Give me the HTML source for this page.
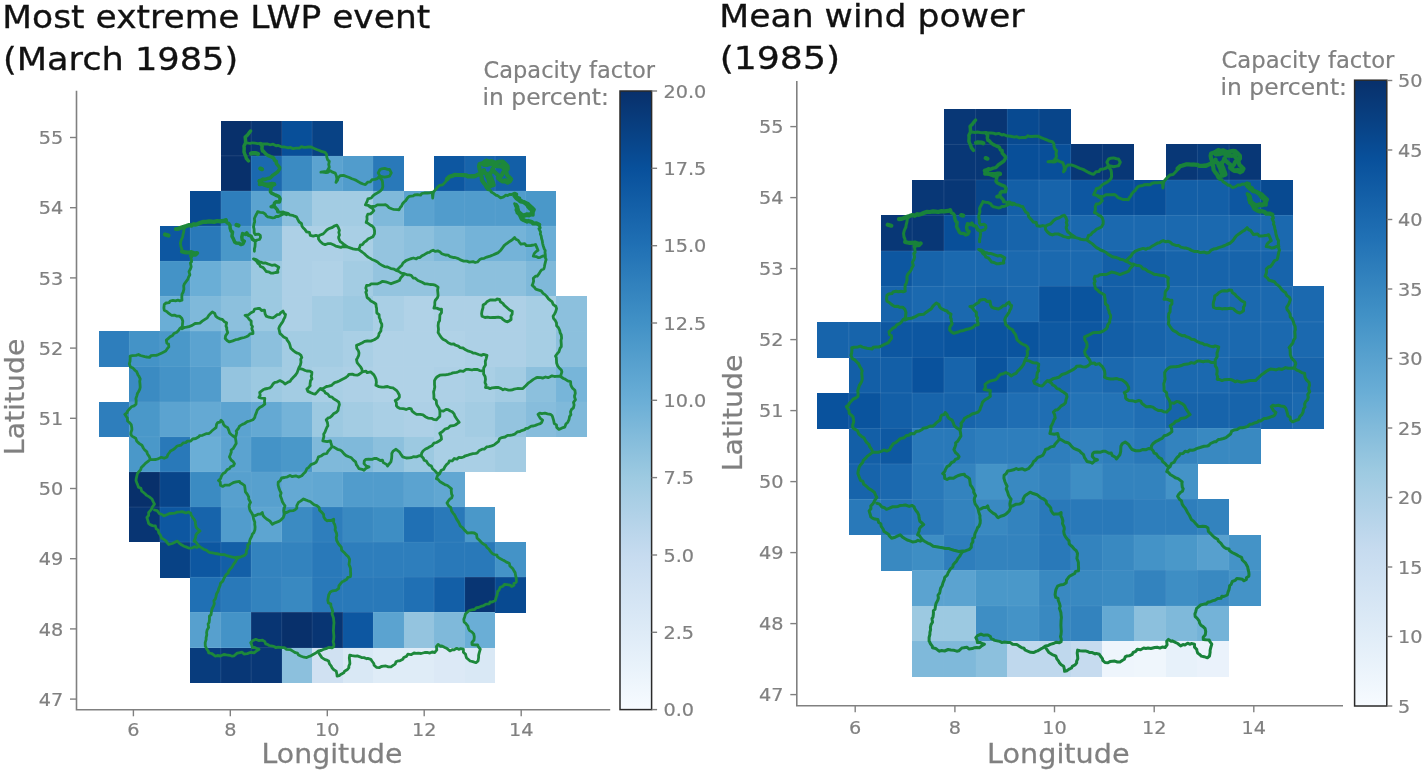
<!DOCTYPE html>
<html><head><meta charset="utf-8"><title>Wind power maps</title>
<style>
html,body{margin:0;padding:0;background:#fff;}
body{width:1425px;height:772px;overflow:hidden;}
svg{display:block;font-family:"DejaVu Sans","Liberation Sans",sans-serif;}
.tk{font-size:18.5px;fill:#808080;stroke:#808080;stroke-width:0.2px;}
.ttl{fill:#111;stroke:#111;stroke-width:0.3px;}
.lab{fill:#808080;stroke:#808080;stroke-width:0.25px;}
.cb{fill:#808080;stroke:#808080;stroke-width:0.2px;}
</style></head><body>
<svg width="1425" height="772" viewBox="0 0 1425 772">
<rect width="1425" height="772" fill="#fff"/>
<g id="cellsL" shape-rendering="crispEdges">
<rect x="220.75" y="120.70" width="30.79" height="35.42" fill="#08306b"/>
<rect x="251.24" y="120.70" width="30.79" height="35.42" fill="#083573"/>
<rect x="281.73" y="120.70" width="30.79" height="35.42" fill="#084f99"/>
<rect x="312.22" y="120.70" width="30.79" height="35.42" fill="#084285"/>
<rect x="220.75" y="155.82" width="30.79" height="35.42" fill="#08306b"/>
<rect x="251.24" y="155.82" width="30.79" height="35.42" fill="#1b69af"/>
<rect x="281.73" y="155.82" width="30.79" height="35.42" fill="#3b8bc2"/>
<rect x="312.22" y="155.82" width="30.79" height="35.42" fill="#5ba3d0"/>
<rect x="342.71" y="155.82" width="30.79" height="35.42" fill="#519ccc"/>
<rect x="373.20" y="155.82" width="30.79" height="35.42" fill="#2979b9"/>
<rect x="434.18" y="155.82" width="30.79" height="35.42" fill="#0d57a1"/>
<rect x="464.67" y="155.82" width="30.79" height="35.42" fill="#1764ab"/>
<rect x="495.16" y="155.82" width="30.79" height="35.42" fill="#135fa7"/>
<rect x="190.26" y="190.95" width="30.79" height="35.42" fill="#084a91"/>
<rect x="220.75" y="190.95" width="30.79" height="35.42" fill="#2e7ebc"/>
<rect x="251.24" y="190.95" width="30.79" height="35.42" fill="#5ba3d0"/>
<rect x="281.73" y="190.95" width="30.79" height="35.42" fill="#8cc0dd"/>
<rect x="312.22" y="190.95" width="30.79" height="35.42" fill="#a3cce3"/>
<rect x="342.71" y="190.95" width="30.79" height="35.42" fill="#a3cce3"/>
<rect x="373.20" y="190.95" width="30.79" height="35.42" fill="#7fb9da"/>
<rect x="403.69" y="190.95" width="30.79" height="35.42" fill="#5ba3d0"/>
<rect x="434.18" y="190.95" width="30.79" height="35.42" fill="#519ccc"/>
<rect x="464.67" y="190.95" width="30.79" height="35.42" fill="#519ccc"/>
<rect x="495.16" y="190.95" width="30.79" height="35.42" fill="#519ccc"/>
<rect x="525.65" y="190.95" width="30.79" height="35.42" fill="#4a98c9"/>
<rect x="159.77" y="226.07" width="30.79" height="35.42" fill="#0d57a1"/>
<rect x="190.26" y="226.07" width="30.79" height="35.42" fill="#2979b9"/>
<rect x="220.75" y="226.07" width="30.79" height="35.42" fill="#4a98c9"/>
<rect x="251.24" y="226.07" width="30.79" height="35.42" fill="#7fb9da"/>
<rect x="281.73" y="226.07" width="30.79" height="35.42" fill="#add0e6"/>
<rect x="312.22" y="226.07" width="30.79" height="35.42" fill="#add0e6"/>
<rect x="342.71" y="226.07" width="30.79" height="35.42" fill="#a9cfe5"/>
<rect x="373.20" y="226.07" width="30.79" height="35.42" fill="#94c4df"/>
<rect x="403.69" y="226.07" width="30.79" height="35.42" fill="#8cc0dd"/>
<rect x="434.18" y="226.07" width="30.79" height="35.42" fill="#7fb9da"/>
<rect x="464.67" y="226.07" width="30.79" height="35.42" fill="#74b3d8"/>
<rect x="495.16" y="226.07" width="30.79" height="35.42" fill="#74b3d8"/>
<rect x="525.65" y="226.07" width="30.79" height="35.42" fill="#6aaed6"/>
<rect x="159.77" y="261.20" width="30.79" height="35.42" fill="#4493c7"/>
<rect x="190.26" y="261.20" width="30.79" height="35.42" fill="#6aaed6"/>
<rect x="220.75" y="261.20" width="30.79" height="35.42" fill="#7fb9da"/>
<rect x="251.24" y="261.20" width="30.79" height="35.42" fill="#9cc9e1"/>
<rect x="281.73" y="261.20" width="30.79" height="35.42" fill="#add0e6"/>
<rect x="312.22" y="261.20" width="30.79" height="35.42" fill="#b0d2e7"/>
<rect x="342.71" y="261.20" width="30.79" height="35.42" fill="#a3cce3"/>
<rect x="373.20" y="261.20" width="30.79" height="35.42" fill="#94c4df"/>
<rect x="403.69" y="261.20" width="30.79" height="35.42" fill="#94c4df"/>
<rect x="434.18" y="261.20" width="30.79" height="35.42" fill="#94c4df"/>
<rect x="464.67" y="261.20" width="30.79" height="35.42" fill="#8cc0dd"/>
<rect x="495.16" y="261.20" width="30.79" height="35.42" fill="#8cc0dd"/>
<rect x="525.65" y="261.20" width="30.79" height="35.42" fill="#7fb9da"/>
<rect x="159.77" y="296.32" width="30.79" height="35.42" fill="#6aaed6"/>
<rect x="190.26" y="296.32" width="30.79" height="35.42" fill="#7fb9da"/>
<rect x="220.75" y="296.32" width="30.79" height="35.42" fill="#8cc0dd"/>
<rect x="251.24" y="296.32" width="30.79" height="35.42" fill="#9cc9e1"/>
<rect x="281.73" y="296.32" width="30.79" height="35.42" fill="#add0e6"/>
<rect x="312.22" y="296.32" width="30.79" height="35.42" fill="#a3cce3"/>
<rect x="342.71" y="296.32" width="30.79" height="35.42" fill="#9cc9e1"/>
<rect x="373.20" y="296.32" width="30.79" height="35.42" fill="#a9cfe5"/>
<rect x="403.69" y="296.32" width="30.79" height="35.42" fill="#b0d2e7"/>
<rect x="434.18" y="296.32" width="30.79" height="35.42" fill="#add0e6"/>
<rect x="464.67" y="296.32" width="30.79" height="35.42" fill="#add0e6"/>
<rect x="495.16" y="296.32" width="30.79" height="35.42" fill="#add0e6"/>
<rect x="525.65" y="296.32" width="30.79" height="35.42" fill="#a6cee4"/>
<rect x="556.14" y="296.32" width="30.79" height="35.42" fill="#8cc0dd"/>
<rect x="98.79" y="331.45" width="30.79" height="35.42" fill="#2e7ebc"/>
<rect x="129.28" y="331.45" width="30.79" height="35.42" fill="#4493c7"/>
<rect x="159.77" y="331.45" width="30.79" height="35.42" fill="#4a98c9"/>
<rect x="190.26" y="331.45" width="30.79" height="35.42" fill="#5ba3d0"/>
<rect x="220.75" y="331.45" width="30.79" height="35.42" fill="#74b3d8"/>
<rect x="251.24" y="331.45" width="30.79" height="35.42" fill="#8cc0dd"/>
<rect x="281.73" y="331.45" width="30.79" height="35.42" fill="#a3cce3"/>
<rect x="312.22" y="331.45" width="30.79" height="35.42" fill="#a3cce3"/>
<rect x="342.71" y="331.45" width="30.79" height="35.42" fill="#a9cfe5"/>
<rect x="373.20" y="331.45" width="30.79" height="35.42" fill="#b0d2e7"/>
<rect x="403.69" y="331.45" width="30.79" height="35.42" fill="#b0d2e7"/>
<rect x="434.18" y="331.45" width="30.79" height="35.42" fill="#b0d2e7"/>
<rect x="464.67" y="331.45" width="30.79" height="35.42" fill="#add0e6"/>
<rect x="495.16" y="331.45" width="30.79" height="35.42" fill="#add0e6"/>
<rect x="525.65" y="331.45" width="30.79" height="35.42" fill="#a6cee4"/>
<rect x="556.14" y="331.45" width="30.79" height="35.42" fill="#8cc0dd"/>
<rect x="129.28" y="366.57" width="30.79" height="35.42" fill="#3b8bc2"/>
<rect x="159.77" y="366.57" width="30.79" height="35.42" fill="#4493c7"/>
<rect x="190.26" y="366.57" width="30.79" height="35.42" fill="#519ccc"/>
<rect x="220.75" y="366.57" width="30.79" height="35.42" fill="#94c4df"/>
<rect x="251.24" y="366.57" width="30.79" height="35.42" fill="#9cc9e1"/>
<rect x="281.73" y="366.57" width="30.79" height="35.42" fill="#a3cce3"/>
<rect x="312.22" y="366.57" width="30.79" height="35.42" fill="#a9cfe5"/>
<rect x="342.71" y="366.57" width="30.79" height="35.42" fill="#add0e6"/>
<rect x="373.20" y="366.57" width="30.79" height="35.42" fill="#b0d2e7"/>
<rect x="403.69" y="366.57" width="30.79" height="35.42" fill="#b0d2e7"/>
<rect x="434.18" y="366.57" width="30.79" height="35.42" fill="#add0e6"/>
<rect x="464.67" y="366.57" width="30.79" height="35.42" fill="#a9cfe5"/>
<rect x="495.16" y="366.57" width="30.79" height="35.42" fill="#a3cce3"/>
<rect x="525.65" y="366.57" width="30.79" height="35.42" fill="#8cc0dd"/>
<rect x="556.14" y="366.57" width="30.79" height="35.42" fill="#77b5d9"/>
<rect x="98.79" y="401.70" width="30.79" height="35.42" fill="#2e7ebc"/>
<rect x="129.28" y="401.70" width="30.79" height="35.42" fill="#4a98c9"/>
<rect x="159.77" y="401.70" width="30.79" height="35.42" fill="#5ba3d0"/>
<rect x="190.26" y="401.70" width="30.79" height="35.42" fill="#64a9d3"/>
<rect x="220.75" y="401.70" width="30.79" height="35.42" fill="#5ba3d0"/>
<rect x="251.24" y="401.70" width="30.79" height="35.42" fill="#64a9d3"/>
<rect x="281.73" y="401.70" width="30.79" height="35.42" fill="#74b3d8"/>
<rect x="312.22" y="401.70" width="30.79" height="35.42" fill="#9cc9e1"/>
<rect x="342.71" y="401.70" width="30.79" height="35.42" fill="#a3cce3"/>
<rect x="373.20" y="401.70" width="30.79" height="35.42" fill="#a9cfe5"/>
<rect x="403.69" y="401.70" width="30.79" height="35.42" fill="#add0e6"/>
<rect x="434.18" y="401.70" width="30.79" height="35.42" fill="#a9cfe5"/>
<rect x="464.67" y="401.70" width="30.79" height="35.42" fill="#a3cce3"/>
<rect x="495.16" y="401.70" width="30.79" height="35.42" fill="#94c4df"/>
<rect x="525.65" y="401.70" width="30.79" height="35.42" fill="#87bddc"/>
<rect x="556.14" y="401.70" width="30.79" height="35.42" fill="#7fb9da"/>
<rect x="129.28" y="436.82" width="30.79" height="35.42" fill="#4a98c9"/>
<rect x="159.77" y="436.82" width="30.79" height="35.42" fill="#2979b9"/>
<rect x="190.26" y="436.82" width="30.79" height="35.42" fill="#6aaed6"/>
<rect x="220.75" y="436.82" width="30.79" height="35.42" fill="#5ba3d0"/>
<rect x="251.24" y="436.82" width="30.79" height="35.42" fill="#4493c7"/>
<rect x="281.73" y="436.82" width="30.79" height="35.42" fill="#4a98c9"/>
<rect x="312.22" y="436.82" width="30.79" height="35.42" fill="#7fb9da"/>
<rect x="342.71" y="436.82" width="30.79" height="35.42" fill="#7fb9da"/>
<rect x="373.20" y="436.82" width="30.79" height="35.42" fill="#8cc0dd"/>
<rect x="403.69" y="436.82" width="30.79" height="35.42" fill="#9cc9e1"/>
<rect x="434.18" y="436.82" width="30.79" height="35.42" fill="#a9cfe5"/>
<rect x="464.67" y="436.82" width="30.79" height="35.42" fill="#a9cfe5"/>
<rect x="495.16" y="436.82" width="30.79" height="35.42" fill="#a3cce3"/>
<rect x="129.28" y="471.95" width="30.79" height="35.42" fill="#08306b"/>
<rect x="159.77" y="471.95" width="30.79" height="35.42" fill="#08458a"/>
<rect x="190.26" y="471.95" width="30.79" height="35.42" fill="#3b8bc2"/>
<rect x="220.75" y="471.95" width="30.79" height="35.42" fill="#57a0ce"/>
<rect x="251.24" y="471.95" width="30.79" height="35.42" fill="#57a0ce"/>
<rect x="281.73" y="471.95" width="30.79" height="35.42" fill="#64a9d3"/>
<rect x="312.22" y="471.95" width="30.79" height="35.42" fill="#61a7d2"/>
<rect x="342.71" y="471.95" width="30.79" height="35.42" fill="#519ccc"/>
<rect x="373.20" y="471.95" width="30.79" height="35.42" fill="#519ccc"/>
<rect x="403.69" y="471.95" width="30.79" height="35.42" fill="#5ba3d0"/>
<rect x="434.18" y="471.95" width="30.79" height="35.42" fill="#61a7d2"/>
<rect x="129.28" y="507.07" width="30.79" height="35.42" fill="#083573"/>
<rect x="159.77" y="507.07" width="30.79" height="35.42" fill="#0d57a1"/>
<rect x="190.26" y="507.07" width="30.79" height="35.42" fill="#1764ab"/>
<rect x="220.75" y="507.07" width="30.79" height="35.42" fill="#519ccc"/>
<rect x="251.24" y="507.07" width="30.79" height="35.42" fill="#5da5d1"/>
<rect x="281.73" y="507.07" width="30.79" height="35.42" fill="#3b8bc2"/>
<rect x="312.22" y="507.07" width="30.79" height="35.42" fill="#2e7ebc"/>
<rect x="342.71" y="507.07" width="30.79" height="35.42" fill="#3989c1"/>
<rect x="373.20" y="507.07" width="30.79" height="35.42" fill="#3e8ec4"/>
<rect x="403.69" y="507.07" width="30.79" height="35.42" fill="#2070b4"/>
<rect x="434.18" y="507.07" width="30.79" height="35.42" fill="#2979b9"/>
<rect x="464.67" y="507.07" width="30.79" height="35.42" fill="#4a98c9"/>
<rect x="159.77" y="542.20" width="30.79" height="35.42" fill="#084285"/>
<rect x="190.26" y="542.20" width="30.79" height="35.42" fill="#0d57a1"/>
<rect x="220.75" y="542.20" width="30.79" height="35.42" fill="#135fa7"/>
<rect x="251.24" y="542.20" width="30.79" height="35.42" fill="#3383be"/>
<rect x="281.73" y="542.20" width="30.79" height="35.42" fill="#3383be"/>
<rect x="312.22" y="542.20" width="30.79" height="35.42" fill="#2979b9"/>
<rect x="342.71" y="542.20" width="30.79" height="35.42" fill="#2e7ebc"/>
<rect x="373.20" y="542.20" width="30.79" height="35.42" fill="#2e7ebc"/>
<rect x="403.69" y="542.20" width="30.79" height="35.42" fill="#2e7ebc"/>
<rect x="434.18" y="542.20" width="30.79" height="35.42" fill="#2979b9"/>
<rect x="464.67" y="542.20" width="30.79" height="35.42" fill="#2979b9"/>
<rect x="495.16" y="542.20" width="30.79" height="35.42" fill="#4493c7"/>
<rect x="190.26" y="577.33" width="30.79" height="35.42" fill="#2070b4"/>
<rect x="220.75" y="577.33" width="30.79" height="35.42" fill="#2979b9"/>
<rect x="251.24" y="577.33" width="30.79" height="35.42" fill="#3383be"/>
<rect x="281.73" y="577.33" width="30.79" height="35.42" fill="#3989c1"/>
<rect x="312.22" y="577.33" width="30.79" height="35.42" fill="#2979b9"/>
<rect x="342.71" y="577.33" width="30.79" height="35.42" fill="#2979b9"/>
<rect x="373.20" y="577.33" width="30.79" height="35.42" fill="#2979b9"/>
<rect x="403.69" y="577.33" width="30.79" height="35.42" fill="#2070b4"/>
<rect x="434.18" y="577.33" width="30.79" height="35.42" fill="#135fa7"/>
<rect x="464.67" y="577.33" width="30.79" height="35.42" fill="#083573"/>
<rect x="495.16" y="577.33" width="30.79" height="35.42" fill="#084a91"/>
<rect x="190.26" y="612.45" width="30.79" height="35.42" fill="#57a0ce"/>
<rect x="220.75" y="612.45" width="30.79" height="35.42" fill="#4493c7"/>
<rect x="251.24" y="612.45" width="30.79" height="35.42" fill="#083573"/>
<rect x="281.73" y="612.45" width="30.79" height="35.42" fill="#08306b"/>
<rect x="312.22" y="612.45" width="30.79" height="35.42" fill="#083573"/>
<rect x="342.71" y="612.45" width="30.79" height="35.42" fill="#0d57a1"/>
<rect x="373.20" y="612.45" width="30.79" height="35.42" fill="#5ba3d0"/>
<rect x="403.69" y="612.45" width="30.79" height="35.42" fill="#94c4df"/>
<rect x="434.18" y="612.45" width="30.79" height="35.42" fill="#7fb9da"/>
<rect x="464.67" y="612.45" width="30.79" height="35.42" fill="#6aaed6"/>
<rect x="190.26" y="647.58" width="30.79" height="35.42" fill="#083c7d"/>
<rect x="220.75" y="647.58" width="30.79" height="35.42" fill="#083776"/>
<rect x="251.24" y="647.58" width="30.79" height="35.42" fill="#083776"/>
<rect x="281.73" y="647.58" width="30.79" height="35.42" fill="#8cc0dd"/>
<rect x="312.22" y="647.58" width="30.79" height="35.42" fill="#d0e1f2"/>
<rect x="342.71" y="647.58" width="30.79" height="35.42" fill="#d9e8f5"/>
<rect x="373.20" y="647.58" width="30.79" height="35.42" fill="#dfecf7"/>
<rect x="403.69" y="647.58" width="30.79" height="35.42" fill="#dfecf7"/>
<rect x="434.18" y="647.58" width="30.79" height="35.42" fill="#dce9f6"/>
<rect x="464.67" y="647.58" width="30.79" height="35.42" fill="#d9e8f5"/>
<path d="M312.2 190.9h30.5 M342.7 190.9h30.5 M281.7 190.9v35.1 M312.2 190.9v35.1 M281.7 226.1h30.5 M342.7 190.9v35.1 M312.2 226.1h30.5 M373.2 190.9v35.1 M342.7 226.1h30.5 M373.2 226.1h30.5 M403.7 226.1h30.5 M281.7 226.1v35.1 M251.2 261.2h30.5 M312.2 226.1v35.1 M281.7 261.2h30.5 M342.7 226.1v35.1 M312.2 261.2h30.5 M373.2 226.1v35.1 M342.7 261.2h30.5 M403.7 226.1v35.1 M373.2 261.2h30.5 M434.2 226.1v35.1 M403.7 261.2h30.5 M464.7 226.1v35.1 M434.2 261.2h30.5 M495.2 226.1v35.1 M464.7 261.2h30.5 M525.6 226.1v35.1 M495.2 261.2h30.5 M525.6 261.2h30.5 M220.8 261.2v35.1 M190.3 296.3h30.5 M251.2 261.2v35.1 M220.8 296.3h30.5 M281.7 261.2v35.1 M251.2 296.3h30.5 M312.2 261.2v35.1 M281.7 296.3h30.5 M342.7 261.2v35.1 M312.2 296.3h30.5 M373.2 261.2v35.1 M342.7 296.3h30.5 M403.7 261.2v35.1 M373.2 296.3h30.5 M434.2 261.2v35.1 M403.7 296.3h30.5 M464.7 261.2v35.1 M434.2 296.3h30.5 M495.2 261.2v35.1 M464.7 296.3h30.5 M525.6 261.2v35.1 M495.2 296.3h30.5 M525.6 296.3h30.5 M190.3 296.3v35.1 M220.8 296.3v35.1 M251.2 296.3v35.1 M220.8 331.4h30.5 M281.7 296.3v35.1 M251.2 331.4h30.5 M312.2 296.3v35.1 M281.7 331.4h30.5 M342.7 296.3v35.1 M312.2 331.4h30.5 M373.2 296.3v35.1 M342.7 331.4h30.5 M403.7 296.3v35.1 M373.2 331.4h30.5 M434.2 296.3v35.1 M403.7 331.4h30.5 M464.7 296.3v35.1 M434.2 331.4h30.5 M495.2 296.3v35.1 M464.7 331.4h30.5 M525.6 296.3v35.1 M495.2 331.4h30.5 M556.1 296.3v35.1 M525.6 331.4h30.5 M556.1 331.4h30.5 M251.2 331.4v35.1 M220.8 366.6h30.5 M281.7 331.4v35.1 M251.2 366.6h30.5 M312.2 331.4v35.1 M281.7 366.6h30.5 M342.7 331.4v35.1 M312.2 366.6h30.5 M373.2 331.4v35.1 M342.7 366.6h30.5 M403.7 331.4v35.1 M373.2 366.6h30.5 M434.2 331.4v35.1 M403.7 366.6h30.5 M464.7 331.4v35.1 M434.2 366.6h30.5 M495.2 331.4v35.1 M464.7 366.6h30.5 M525.6 331.4v35.1 M495.2 366.6h30.5 M556.1 331.4v35.1 M525.6 366.6h30.5 M556.1 366.6h30.5 M220.8 366.6v35.1 M251.2 366.6v35.1 M220.8 401.7h30.5 M281.7 366.6v35.1 M251.2 401.7h30.5 M312.2 366.6v35.1 M281.7 401.7h30.5 M342.7 366.6v35.1 M312.2 401.7h30.5 M373.2 366.6v35.1 M342.7 401.7h30.5 M403.7 366.6v35.1 M373.2 401.7h30.5 M434.2 366.6v35.1 M403.7 401.7h30.5 M464.7 366.6v35.1 M434.2 401.7h30.5 M495.2 366.6v35.1 M464.7 401.7h30.5 M525.6 366.6v35.1 M495.2 401.7h30.5 M556.1 366.6v35.1 M525.6 401.7h30.5 M556.1 401.7h30.5 M312.2 401.7v35.1 M342.7 401.7v35.1 M312.2 436.8h30.5 M373.2 401.7v35.1 M342.7 436.8h30.5 M403.7 401.7v35.1 M373.2 436.8h30.5 M434.2 401.7v35.1 M403.7 436.8h30.5 M464.7 401.7v35.1 M434.2 436.8h30.5 M495.2 401.7v35.1 M464.7 436.8h30.5 M525.6 401.7v35.1 M495.2 436.8h30.5 M556.1 401.7v35.1 M342.7 436.8v35.1 M312.2 471.9h30.5 M373.2 436.8v35.1 M403.7 436.8v35.1 M434.2 436.8v35.1 M403.7 471.9h30.5 M464.7 436.8v35.1 M434.2 471.9h30.5 M495.2 436.8v35.1 M403.7 612.5v35.1 M373.2 647.6h30.5 M434.2 612.5v35.1 M403.7 647.6h30.5 M464.7 612.5v35.1 M434.2 647.6h30.5 M464.7 647.6h30.5 M312.2 647.6v35.1 M342.7 647.6v35.1 M373.2 647.6v35.1 M403.7 647.6v35.1 M434.2 647.6v35.1 M464.7 647.6v35.1" stroke="#fff" stroke-opacity="0.02" stroke-width="1" fill="none" shape-rendering="auto"/>
<path d="M312.2 155.8h30.5 M281.7 155.8v35.1 M251.2 190.9h30.5 M312.2 155.8v35.1 M281.7 190.9h30.5 M342.7 155.8v35.1 M373.2 155.8v35.1 M373.2 190.9h30.5 M434.2 190.9h30.5 M464.7 190.9h30.5 M495.2 190.9h30.5 M251.2 190.9v35.1 M220.8 226.1h30.5 M251.2 226.1h30.5 M403.7 190.9v35.1 M434.2 190.9v35.1 M464.7 190.9v35.1 M434.2 226.1h30.5 M495.2 190.9v35.1 M464.7 226.1h30.5 M525.6 190.9v35.1 M495.2 226.1h30.5 M525.6 226.1h30.5 M159.8 261.2h30.5 M220.8 226.1v35.1 M190.3 261.2h30.5 M251.2 226.1v35.1 M220.8 261.2h30.5 M190.3 261.2v35.1 M159.8 296.3h30.5 M159.8 331.4h30.5 M190.3 331.4h30.5 M129.3 331.4v35.1 M159.8 331.4v35.1 M129.3 366.6h30.5 M190.3 331.4v35.1 M159.8 366.6h30.5 M220.8 331.4v35.1 M190.3 366.6h30.5 M159.8 366.6v35.1 M129.3 401.7h30.5 M190.3 366.6v35.1 M159.8 401.7h30.5 M190.3 401.7h30.5 M129.3 401.7v35.1 M159.8 401.7v35.1 M129.3 436.8h30.5 M190.3 401.7v35.1 M159.8 436.8h30.5 M220.8 401.7v35.1 M190.3 436.8h30.5 M251.2 401.7v35.1 M220.8 436.8h30.5 M281.7 401.7v35.1 M251.2 436.8h30.5 M281.7 436.8h30.5 M159.8 436.8v35.1 M190.3 436.8v35.1 M220.8 436.8v35.1 M190.3 471.9h30.5 M251.2 436.8v35.1 M220.8 471.9h30.5 M281.7 436.8v35.1 M251.2 471.9h30.5 M312.2 436.8v35.1 M281.7 471.9h30.5 M342.7 471.9h30.5 M373.2 471.9h30.5 M220.8 471.9v35.1 M190.3 507.1h30.5 M251.2 471.9v35.1 M220.8 507.1h30.5 M281.7 471.9v35.1 M251.2 507.1h30.5 M312.2 471.9v35.1 M281.7 507.1h30.5 M342.7 471.9v35.1 M312.2 507.1h30.5 M373.2 471.9v35.1 M342.7 507.1h30.5 M403.7 471.9v35.1 M373.2 507.1h30.5 M434.2 471.9v35.1 M403.7 507.1h30.5 M434.2 507.1h30.5 M220.8 507.1v35.1 M251.2 507.1v35.1 M220.8 542.2h30.5 M281.7 507.1v35.1 M251.2 542.2h30.5 M312.2 507.1v35.1 M281.7 542.2h30.5 M342.7 507.1v35.1 M312.2 542.2h30.5 M373.2 507.1v35.1 M342.7 542.2h30.5 M403.7 507.1v35.1 M373.2 542.2h30.5 M434.2 507.1v35.1 M403.7 542.2h30.5 M464.7 507.1v35.1 M434.2 542.2h30.5 M464.7 542.2h30.5 M281.7 542.2v35.1 M251.2 577.3h30.5 M312.2 542.2v35.1 M281.7 577.3h30.5 M342.7 542.2v35.1 M312.2 577.3h30.5 M373.2 542.2v35.1 M342.7 577.3h30.5 M403.7 542.2v35.1 M373.2 577.3h30.5 M434.2 542.2v35.1 M403.7 577.3h30.5 M464.7 542.2v35.1 M495.2 542.2v35.1 M220.8 577.3v35.1 M190.3 612.5h30.5 M251.2 577.3v35.1 M220.8 612.5h30.5 M281.7 577.3v35.1 M312.2 577.3v35.1 M342.7 577.3v35.1 M373.2 577.3v35.1 M403.7 577.3v35.1 M373.2 612.5h30.5 M403.7 612.5h30.5 M434.2 612.5h30.5 M464.7 612.5h30.5 M220.8 612.5v35.1 M281.7 647.6h30.5 M312.2 647.6h30.5 M373.2 612.5v35.1 M342.7 647.6h30.5 M281.7 647.6v35.1" stroke="#fff" stroke-opacity="0.06" stroke-width="1" fill="none" shape-rendering="auto"/>
<path d="M251.2 120.7v35.1 M220.8 155.8h30.5 M281.7 120.7v35.1 M251.2 155.8h30.5 M312.2 120.7v35.1 M281.7 155.8h30.5 M251.2 155.8v35.1 M220.8 190.9h30.5 M464.7 155.8v35.1 M495.2 155.8v35.1 M220.8 190.9v35.1 M190.3 226.1h30.5 M190.3 226.1v35.1 M129.3 471.9h30.5 M159.8 471.9h30.5 M159.8 471.9v35.1 M129.3 507.1h30.5 M190.3 471.9v35.1 M159.8 507.1h30.5 M159.8 507.1v35.1 M190.3 507.1v35.1 M159.8 542.2h30.5 M190.3 542.2h30.5 M190.3 542.2v35.1 M220.8 542.2v35.1 M190.3 577.3h30.5 M251.2 542.2v35.1 M220.8 577.3h30.5 M434.2 577.3h30.5 M464.7 577.3h30.5 M495.2 577.3h30.5 M251.2 612.5h30.5 M281.7 612.5h30.5 M312.2 612.5h30.5 M342.7 612.5h30.5 M434.2 577.3v35.1 M464.7 577.3v35.1 M495.2 577.3v35.1 M190.3 647.6h30.5 M251.2 612.5v35.1 M220.8 647.6h30.5 M281.7 612.5v35.1 M251.2 647.6h30.5 M312.2 612.5v35.1 M342.7 612.5v35.1 M220.8 647.6v35.1 M251.2 647.6v35.1" stroke="#fff" stroke-opacity="0.10" stroke-width="1" fill="none" shape-rendering="auto"/>
</g>
<g id="cellsR" shape-rendering="crispEdges">
<rect x="943.90" y="108.90" width="31.99" height="35.80" fill="#083776"/>
<rect x="975.59" y="108.90" width="31.99" height="35.80" fill="#083573"/>
<rect x="1007.28" y="108.90" width="31.99" height="35.80" fill="#084a91"/>
<rect x="1038.97" y="108.90" width="31.99" height="35.80" fill="#08458a"/>
<rect x="943.90" y="144.40" width="31.99" height="35.80" fill="#083776"/>
<rect x="975.59" y="144.40" width="31.99" height="35.80" fill="#083776"/>
<rect x="1007.28" y="144.40" width="31.99" height="35.80" fill="#084f99"/>
<rect x="1038.97" y="144.40" width="31.99" height="35.80" fill="#084f99"/>
<rect x="1070.66" y="144.40" width="31.99" height="35.80" fill="#083776"/>
<rect x="1102.35" y="144.40" width="31.99" height="35.80" fill="#083776"/>
<rect x="1165.73" y="144.40" width="31.99" height="35.80" fill="#083776"/>
<rect x="1197.42" y="144.40" width="31.99" height="35.80" fill="#083c7d"/>
<rect x="1229.11" y="144.40" width="31.99" height="35.80" fill="#083776"/>
<rect x="912.21" y="179.90" width="31.99" height="35.80" fill="#083776"/>
<rect x="943.90" y="179.90" width="31.99" height="35.80" fill="#083776"/>
<rect x="975.59" y="179.90" width="31.99" height="35.80" fill="#08458a"/>
<rect x="1007.28" y="179.90" width="31.99" height="35.80" fill="#135fa7"/>
<rect x="1038.97" y="179.90" width="31.99" height="35.80" fill="#1764ab"/>
<rect x="1070.66" y="179.90" width="31.99" height="35.80" fill="#0d57a1"/>
<rect x="1102.35" y="179.90" width="31.99" height="35.80" fill="#084f99"/>
<rect x="1134.04" y="179.90" width="31.99" height="35.80" fill="#084f99"/>
<rect x="1165.73" y="179.90" width="31.99" height="35.80" fill="#135fa7"/>
<rect x="1197.42" y="179.90" width="31.99" height="35.80" fill="#135fa7"/>
<rect x="1229.11" y="179.90" width="31.99" height="35.80" fill="#0d57a1"/>
<rect x="1260.80" y="179.90" width="31.99" height="35.80" fill="#084a91"/>
<rect x="880.52" y="215.40" width="31.99" height="35.80" fill="#083776"/>
<rect x="912.21" y="215.40" width="31.99" height="35.80" fill="#083776"/>
<rect x="943.90" y="215.40" width="31.99" height="35.80" fill="#084f99"/>
<rect x="975.59" y="215.40" width="31.99" height="35.80" fill="#135fa7"/>
<rect x="1007.28" y="215.40" width="31.99" height="35.80" fill="#1764ab"/>
<rect x="1038.97" y="215.40" width="31.99" height="35.80" fill="#1b69af"/>
<rect x="1070.66" y="215.40" width="31.99" height="35.80" fill="#1b69af"/>
<rect x="1102.35" y="215.40" width="31.99" height="35.80" fill="#1b69af"/>
<rect x="1134.04" y="215.40" width="31.99" height="35.80" fill="#1b69af"/>
<rect x="1165.73" y="215.40" width="31.99" height="35.80" fill="#1b69af"/>
<rect x="1197.42" y="215.40" width="31.99" height="35.80" fill="#1b69af"/>
<rect x="1229.11" y="215.40" width="31.99" height="35.80" fill="#1b69af"/>
<rect x="1260.80" y="215.40" width="31.99" height="35.80" fill="#1b69af"/>
<rect x="880.52" y="250.90" width="31.99" height="35.80" fill="#0d57a1"/>
<rect x="912.21" y="250.90" width="31.99" height="35.80" fill="#1764ab"/>
<rect x="943.90" y="250.90" width="31.99" height="35.80" fill="#1b69af"/>
<rect x="975.59" y="250.90" width="31.99" height="35.80" fill="#1b69af"/>
<rect x="1007.28" y="250.90" width="31.99" height="35.80" fill="#1b69af"/>
<rect x="1038.97" y="250.90" width="31.99" height="35.80" fill="#1b69af"/>
<rect x="1070.66" y="250.90" width="31.99" height="35.80" fill="#1b69af"/>
<rect x="1102.35" y="250.90" width="31.99" height="35.80" fill="#135fa7"/>
<rect x="1134.04" y="250.90" width="31.99" height="35.80" fill="#135fa7"/>
<rect x="1165.73" y="250.90" width="31.99" height="35.80" fill="#1764ab"/>
<rect x="1197.42" y="250.90" width="31.99" height="35.80" fill="#1764ab"/>
<rect x="1229.11" y="250.90" width="31.99" height="35.80" fill="#1764ab"/>
<rect x="1260.80" y="250.90" width="31.99" height="35.80" fill="#1764ab"/>
<rect x="880.52" y="286.40" width="31.99" height="35.80" fill="#1764ab"/>
<rect x="912.21" y="286.40" width="31.99" height="35.80" fill="#1b69af"/>
<rect x="943.90" y="286.40" width="31.99" height="35.80" fill="#1b69af"/>
<rect x="975.59" y="286.40" width="31.99" height="35.80" fill="#1764ab"/>
<rect x="1007.28" y="286.40" width="31.99" height="35.80" fill="#1b69af"/>
<rect x="1038.97" y="286.40" width="31.99" height="35.80" fill="#0a549e"/>
<rect x="1070.66" y="286.40" width="31.99" height="35.80" fill="#0a549e"/>
<rect x="1102.35" y="286.40" width="31.99" height="35.80" fill="#135fa7"/>
<rect x="1134.04" y="286.40" width="31.99" height="35.80" fill="#1764ab"/>
<rect x="1165.73" y="286.40" width="31.99" height="35.80" fill="#1b69af"/>
<rect x="1197.42" y="286.40" width="31.99" height="35.80" fill="#1b69af"/>
<rect x="1229.11" y="286.40" width="31.99" height="35.80" fill="#1b69af"/>
<rect x="1260.80" y="286.40" width="31.99" height="35.80" fill="#1b69af"/>
<rect x="1292.49" y="286.40" width="31.99" height="35.80" fill="#1b69af"/>
<rect x="817.14" y="321.90" width="31.99" height="35.80" fill="#1764ab"/>
<rect x="848.83" y="321.90" width="31.99" height="35.80" fill="#1764ab"/>
<rect x="880.52" y="321.90" width="31.99" height="35.80" fill="#0d57a1"/>
<rect x="912.21" y="321.90" width="31.99" height="35.80" fill="#0d57a1"/>
<rect x="943.90" y="321.90" width="31.99" height="35.80" fill="#0a549e"/>
<rect x="975.59" y="321.90" width="31.99" height="35.80" fill="#0a549e"/>
<rect x="1007.28" y="321.90" width="31.99" height="35.80" fill="#0a549e"/>
<rect x="1038.97" y="321.90" width="31.99" height="35.80" fill="#0e59a2"/>
<rect x="1070.66" y="321.90" width="31.99" height="35.80" fill="#0d57a1"/>
<rect x="1102.35" y="321.90" width="31.99" height="35.80" fill="#135fa7"/>
<rect x="1134.04" y="321.90" width="31.99" height="35.80" fill="#1764ab"/>
<rect x="1165.73" y="321.90" width="31.99" height="35.80" fill="#1b69af"/>
<rect x="1197.42" y="321.90" width="31.99" height="35.80" fill="#1b69af"/>
<rect x="1229.11" y="321.90" width="31.99" height="35.80" fill="#1b69af"/>
<rect x="1260.80" y="321.90" width="31.99" height="35.80" fill="#1b69af"/>
<rect x="1292.49" y="321.90" width="31.99" height="35.80" fill="#1b69af"/>
<rect x="848.83" y="357.40" width="31.99" height="35.80" fill="#135fa7"/>
<rect x="880.52" y="357.40" width="31.99" height="35.80" fill="#135fa7"/>
<rect x="912.21" y="357.40" width="31.99" height="35.80" fill="#09529d"/>
<rect x="943.90" y="357.40" width="31.99" height="35.80" fill="#1764ab"/>
<rect x="975.59" y="357.40" width="31.99" height="35.80" fill="#0a549e"/>
<rect x="1007.28" y="357.40" width="31.99" height="35.80" fill="#1764ab"/>
<rect x="1038.97" y="357.40" width="31.99" height="35.80" fill="#1b69af"/>
<rect x="1070.66" y="357.40" width="31.99" height="35.80" fill="#1f6eb3"/>
<rect x="1102.35" y="357.40" width="31.99" height="35.80" fill="#1b69af"/>
<rect x="1134.04" y="357.40" width="31.99" height="35.80" fill="#1f6eb3"/>
<rect x="1165.73" y="357.40" width="31.99" height="35.80" fill="#1b69af"/>
<rect x="1197.42" y="357.40" width="31.99" height="35.80" fill="#1b69af"/>
<rect x="1229.11" y="357.40" width="31.99" height="35.80" fill="#1764ab"/>
<rect x="1260.80" y="357.40" width="31.99" height="35.80" fill="#1764ab"/>
<rect x="1292.49" y="357.40" width="31.99" height="35.80" fill="#1764ab"/>
<rect x="817.14" y="392.90" width="31.99" height="35.80" fill="#09529d"/>
<rect x="848.83" y="392.90" width="31.99" height="35.80" fill="#0a549e"/>
<rect x="880.52" y="392.90" width="31.99" height="35.80" fill="#135fa7"/>
<rect x="912.21" y="392.90" width="31.99" height="35.80" fill="#1764ab"/>
<rect x="943.90" y="392.90" width="31.99" height="35.80" fill="#1764ab"/>
<rect x="975.59" y="392.90" width="31.99" height="35.80" fill="#1b69af"/>
<rect x="1007.28" y="392.90" width="31.99" height="35.80" fill="#1f6eb3"/>
<rect x="1038.97" y="392.90" width="31.99" height="35.80" fill="#1f6eb3"/>
<rect x="1070.66" y="392.90" width="31.99" height="35.80" fill="#2373b6"/>
<rect x="1102.35" y="392.90" width="31.99" height="35.80" fill="#2373b6"/>
<rect x="1134.04" y="392.90" width="31.99" height="35.80" fill="#1f6eb3"/>
<rect x="1165.73" y="392.90" width="31.99" height="35.80" fill="#1764ab"/>
<rect x="1197.42" y="392.90" width="31.99" height="35.80" fill="#1764ab"/>
<rect x="1229.11" y="392.90" width="31.99" height="35.80" fill="#1764ab"/>
<rect x="1260.80" y="392.90" width="31.99" height="35.80" fill="#1764ab"/>
<rect x="1292.49" y="392.90" width="31.99" height="35.80" fill="#1b69af"/>
<rect x="848.83" y="428.40" width="31.99" height="35.80" fill="#135fa7"/>
<rect x="880.52" y="428.40" width="31.99" height="35.80" fill="#0e59a2"/>
<rect x="912.21" y="428.40" width="31.99" height="35.80" fill="#2979b9"/>
<rect x="943.90" y="428.40" width="31.99" height="35.80" fill="#2979b9"/>
<rect x="975.59" y="428.40" width="31.99" height="35.80" fill="#2e7ebc"/>
<rect x="1007.28" y="428.40" width="31.99" height="35.80" fill="#2e7ebc"/>
<rect x="1038.97" y="428.40" width="31.99" height="35.80" fill="#2e7ebc"/>
<rect x="1070.66" y="428.40" width="31.99" height="35.80" fill="#3383be"/>
<rect x="1102.35" y="428.40" width="31.99" height="35.80" fill="#2e7ebc"/>
<rect x="1134.04" y="428.40" width="31.99" height="35.80" fill="#2979b9"/>
<rect x="1165.73" y="428.40" width="31.99" height="35.80" fill="#3383be"/>
<rect x="1197.42" y="428.40" width="31.99" height="35.80" fill="#3989c1"/>
<rect x="1229.11" y="428.40" width="31.99" height="35.80" fill="#3989c1"/>
<rect x="848.83" y="463.90" width="31.99" height="35.80" fill="#1764ab"/>
<rect x="880.52" y="463.90" width="31.99" height="35.80" fill="#1b69af"/>
<rect x="912.21" y="463.90" width="31.99" height="35.80" fill="#2979b9"/>
<rect x="943.90" y="463.90" width="31.99" height="35.80" fill="#3383be"/>
<rect x="975.59" y="463.90" width="31.99" height="35.80" fill="#4493c7"/>
<rect x="1007.28" y="463.90" width="31.99" height="35.80" fill="#3989c1"/>
<rect x="1038.97" y="463.90" width="31.99" height="35.80" fill="#3383be"/>
<rect x="1070.66" y="463.90" width="31.99" height="35.80" fill="#3e8ec4"/>
<rect x="1102.35" y="463.90" width="31.99" height="35.80" fill="#3383be"/>
<rect x="1134.04" y="463.90" width="31.99" height="35.80" fill="#3383be"/>
<rect x="1165.73" y="463.90" width="31.99" height="35.80" fill="#4493c7"/>
<rect x="848.83" y="499.40" width="31.99" height="35.80" fill="#2979b9"/>
<rect x="880.52" y="499.40" width="31.99" height="35.80" fill="#2373b6"/>
<rect x="912.21" y="499.40" width="31.99" height="35.80" fill="#2979b9"/>
<rect x="943.90" y="499.40" width="31.99" height="35.80" fill="#3383be"/>
<rect x="975.59" y="499.40" width="31.99" height="35.80" fill="#3989c1"/>
<rect x="1007.28" y="499.40" width="31.99" height="35.80" fill="#3383be"/>
<rect x="1038.97" y="499.40" width="31.99" height="35.80" fill="#2979b9"/>
<rect x="1070.66" y="499.40" width="31.99" height="35.80" fill="#2979b9"/>
<rect x="1102.35" y="499.40" width="31.99" height="35.80" fill="#2979b9"/>
<rect x="1134.04" y="499.40" width="31.99" height="35.80" fill="#2e7ebc"/>
<rect x="1165.73" y="499.40" width="31.99" height="35.80" fill="#2e7ebc"/>
<rect x="1197.42" y="499.40" width="31.99" height="35.80" fill="#3383be"/>
<rect x="880.52" y="534.90" width="31.99" height="35.80" fill="#3989c1"/>
<rect x="912.21" y="534.90" width="31.99" height="35.80" fill="#3e8ec4"/>
<rect x="943.90" y="534.90" width="31.99" height="35.80" fill="#2e7ebc"/>
<rect x="975.59" y="534.90" width="31.99" height="35.80" fill="#3383be"/>
<rect x="1007.28" y="534.90" width="31.99" height="35.80" fill="#3383be"/>
<rect x="1038.97" y="534.90" width="31.99" height="35.80" fill="#2979b9"/>
<rect x="1070.66" y="534.90" width="31.99" height="35.80" fill="#3383be"/>
<rect x="1102.35" y="534.90" width="31.99" height="35.80" fill="#3989c1"/>
<rect x="1134.04" y="534.90" width="31.99" height="35.80" fill="#4493c7"/>
<rect x="1165.73" y="534.90" width="31.99" height="35.80" fill="#4a98c9"/>
<rect x="1197.42" y="534.90" width="31.99" height="35.80" fill="#57a0ce"/>
<rect x="1229.11" y="534.90" width="31.99" height="35.80" fill="#4493c7"/>
<rect x="912.21" y="570.40" width="31.99" height="35.80" fill="#5ba3d0"/>
<rect x="943.90" y="570.40" width="31.99" height="35.80" fill="#5ba3d0"/>
<rect x="975.59" y="570.40" width="31.99" height="35.80" fill="#4a98c9"/>
<rect x="1007.28" y="570.40" width="31.99" height="35.80" fill="#4a98c9"/>
<rect x="1038.97" y="570.40" width="31.99" height="35.80" fill="#3989c1"/>
<rect x="1070.66" y="570.40" width="31.99" height="35.80" fill="#3989c1"/>
<rect x="1102.35" y="570.40" width="31.99" height="35.80" fill="#3b8bc2"/>
<rect x="1134.04" y="570.40" width="31.99" height="35.80" fill="#3383be"/>
<rect x="1165.73" y="570.40" width="31.99" height="35.80" fill="#3e8ec4"/>
<rect x="1197.42" y="570.40" width="31.99" height="35.80" fill="#3989c1"/>
<rect x="1229.11" y="570.40" width="31.99" height="35.80" fill="#4493c7"/>
<rect x="912.21" y="605.90" width="31.99" height="35.80" fill="#9cc9e1"/>
<rect x="943.90" y="605.90" width="31.99" height="35.80" fill="#9cc9e1"/>
<rect x="975.59" y="605.90" width="31.99" height="35.80" fill="#3e8ec4"/>
<rect x="1007.28" y="605.90" width="31.99" height="35.80" fill="#4493c7"/>
<rect x="1038.97" y="605.90" width="31.99" height="35.80" fill="#3989c1"/>
<rect x="1070.66" y="605.90" width="31.99" height="35.80" fill="#3383be"/>
<rect x="1102.35" y="605.90" width="31.99" height="35.80" fill="#64a9d3"/>
<rect x="1134.04" y="605.90" width="31.99" height="35.80" fill="#8cc0dd"/>
<rect x="1165.73" y="605.90" width="31.99" height="35.80" fill="#7fb9da"/>
<rect x="1197.42" y="605.90" width="31.99" height="35.80" fill="#74b3d8"/>
<rect x="912.21" y="641.40" width="31.99" height="35.80" fill="#7fb9da"/>
<rect x="943.90" y="641.40" width="31.99" height="35.80" fill="#7fb9da"/>
<rect x="975.59" y="641.40" width="31.99" height="35.80" fill="#8cc0dd"/>
<rect x="1007.28" y="641.40" width="31.99" height="35.80" fill="#bfd8ed"/>
<rect x="1038.97" y="641.40" width="31.99" height="35.80" fill="#bfd8ed"/>
<rect x="1070.66" y="641.40" width="31.99" height="35.80" fill="#c6dbef"/>
<rect x="1102.35" y="641.40" width="31.99" height="35.80" fill="#eef5fc"/>
<rect x="1134.04" y="641.40" width="31.99" height="35.80" fill="#eff6fc"/>
<rect x="1165.73" y="641.40" width="31.99" height="35.80" fill="#e7f1fa"/>
<rect x="1197.42" y="641.40" width="31.99" height="35.80" fill="#eaf2fb"/>
<path d="M912.2 605.9h31.7 M943.9 605.9h31.7 M943.9 605.9v35.5 M912.2 641.4h31.7 M943.9 641.4h31.7 M1007.3 641.4h31.7 M1039.0 641.4h31.7 M1070.7 641.4h31.7 M1134.0 605.9v35.5 M1102.3 641.4h31.7 M1165.7 605.9v35.5 M1134.0 641.4h31.7 M1197.4 605.9v35.5 M1165.7 641.4h31.7 M1197.4 641.4h31.7 M943.9 641.4v35.5 M975.6 641.4v35.5 M1007.3 641.4v35.5 M1039.0 641.4v35.5 M1070.7 641.4v35.5 M1102.4 641.4v35.5 M1134.0 641.4v35.5 M1165.7 641.4v35.5 M1197.4 641.4v35.5" stroke="#fff" stroke-opacity="0.02" stroke-width="1" fill="none" shape-rendering="auto"/>
<path d="M975.6 428.4h31.7 M1007.3 428.4h31.7 M1039.0 428.4h31.7 M1102.4 392.9v35.5 M1070.7 428.4h31.7 M1102.3 428.4h31.7 M1134.0 428.4h31.7 M1165.7 428.4h31.7 M1197.4 428.4h31.7 M1229.1 428.4h31.7 M943.9 428.4v35.5 M912.2 463.9h31.7 M975.6 428.4v35.5 M943.9 463.9h31.7 M1007.3 428.4v35.5 M975.6 463.9h31.7 M1039.0 428.4v35.5 M1007.3 463.9h31.7 M1070.7 428.4v35.5 M1039.0 463.9h31.7 M1102.4 428.4v35.5 M1070.7 463.9h31.7 M1134.0 428.4v35.5 M1102.3 463.9h31.7 M1165.7 428.4v35.5 M1134.0 463.9h31.7 M1197.4 428.4v35.5 M1165.7 463.9h31.7 M1229.1 428.4v35.5 M943.9 463.9v35.5 M912.2 499.4h31.7 M975.6 463.9v35.5 M943.9 499.4h31.7 M1007.3 463.9v35.5 M975.6 499.4h31.7 M1039.0 463.9v35.5 M1007.3 499.4h31.7 M1070.7 463.9v35.5 M1039.0 499.4h31.7 M1102.4 463.9v35.5 M1070.7 499.4h31.7 M1134.0 463.9v35.5 M1102.3 499.4h31.7 M1165.7 463.9v35.5 M1134.0 499.4h31.7 M1165.7 499.4h31.7 M880.5 499.4v35.5 M912.2 499.4v35.5 M880.5 534.9h31.7 M943.9 499.4v35.5 M912.2 534.9h31.7 M975.6 499.4v35.5 M943.9 534.9h31.7 M1007.3 499.4v35.5 M975.6 534.9h31.7 M1039.0 499.4v35.5 M1007.3 534.9h31.7 M1070.7 499.4v35.5 M1039.0 534.9h31.7 M1102.4 499.4v35.5 M1070.7 534.9h31.7 M1134.0 499.4v35.5 M1102.3 534.9h31.7 M1165.7 499.4v35.5 M1134.0 534.9h31.7 M1197.4 499.4v35.5 M1165.7 534.9h31.7 M1197.4 534.9h31.7 M912.2 534.9v35.5 M943.9 534.9v35.5 M912.2 570.4h31.7 M975.6 534.9v35.5 M943.9 570.4h31.7 M1007.3 534.9v35.5 M975.6 570.4h31.7 M1039.0 534.9v35.5 M1007.3 570.4h31.7 M1070.7 534.9v35.5 M1039.0 570.4h31.7 M1102.4 534.9v35.5 M1070.7 570.4h31.7 M1134.0 534.9v35.5 M1102.3 570.4h31.7 M1165.7 534.9v35.5 M1134.0 570.4h31.7 M1197.4 534.9v35.5 M1165.7 570.4h31.7 M1229.1 534.9v35.5 M1197.4 570.4h31.7 M1229.1 570.4h31.7 M943.9 570.4v35.5 M975.6 570.4v35.5 M1007.3 570.4v35.5 M975.6 605.9h31.7 M1039.0 570.4v35.5 M1007.3 605.9h31.7 M1070.7 570.4v35.5 M1039.0 605.9h31.7 M1102.4 570.4v35.5 M1070.7 605.9h31.7 M1134.0 570.4v35.5 M1102.3 605.9h31.7 M1165.7 570.4v35.5 M1134.0 605.9h31.7 M1197.4 570.4v35.5 M1165.7 605.9h31.7 M1229.1 570.4v35.5 M1197.4 605.9h31.7 M975.6 605.9v35.5 M1007.3 605.9v35.5 M975.6 641.4h31.7 M1039.0 605.9v35.5 M1070.7 605.9v35.5 M1102.4 605.9v35.5" stroke="#fff" stroke-opacity="0.06" stroke-width="1" fill="none" shape-rendering="auto"/>
<path d="M975.6 108.9v35.5 M943.9 144.4h31.7 M1007.3 108.9v35.5 M975.6 144.4h31.7 M1039.0 108.9v35.5 M1007.3 144.4h31.7 M1039.0 144.4h31.7 M975.6 144.4v35.5 M943.9 179.9h31.7 M1007.3 144.4v35.5 M975.6 179.9h31.7 M1039.0 144.4v35.5 M1007.3 179.9h31.7 M1070.7 144.4v35.5 M1039.0 179.9h31.7 M1102.4 144.4v35.5 M1070.7 179.9h31.7 M1102.3 179.9h31.7 M1197.4 144.4v35.5 M1165.7 179.9h31.7 M1229.1 144.4v35.5 M1197.4 179.9h31.7 M1229.1 179.9h31.7 M943.9 179.9v35.5 M912.2 215.4h31.7 M975.6 179.9v35.5 M943.9 215.4h31.7 M1007.3 179.9v35.5 M975.6 215.4h31.7 M1039.0 179.9v35.5 M1007.3 215.4h31.7 M1070.7 179.9v35.5 M1039.0 215.4h31.7 M1102.4 179.9v35.5 M1070.7 215.4h31.7 M1134.0 179.9v35.5 M1102.3 215.4h31.7 M1165.7 179.9v35.5 M1134.0 215.4h31.7 M1197.4 179.9v35.5 M1165.7 215.4h31.7 M1229.1 179.9v35.5 M1197.4 215.4h31.7 M1260.8 179.9v35.5 M1229.1 215.4h31.7 M1260.8 215.4h31.7 M912.2 215.4v35.5 M880.5 250.9h31.7 M943.9 215.4v35.5 M912.2 250.9h31.7 M975.6 215.4v35.5 M943.9 250.9h31.7 M1007.3 215.4v35.5 M975.6 250.9h31.7 M1039.0 215.4v35.5 M1007.3 250.9h31.7 M1070.7 215.4v35.5 M1039.0 250.9h31.7 M1102.4 215.4v35.5 M1070.7 250.9h31.7 M1134.0 215.4v35.5 M1102.3 250.9h31.7 M1165.7 215.4v35.5 M1134.0 250.9h31.7 M1197.4 215.4v35.5 M1165.7 250.9h31.7 M1229.1 215.4v35.5 M1197.4 250.9h31.7 M1260.8 215.4v35.5 M1229.1 250.9h31.7 M1260.8 250.9h31.7 M912.2 250.9v35.5 M880.5 286.4h31.7 M943.9 250.9v35.5 M912.2 286.4h31.7 M975.6 250.9v35.5 M943.9 286.4h31.7 M1007.3 250.9v35.5 M975.6 286.4h31.7 M1039.0 250.9v35.5 M1007.3 286.4h31.7 M1070.7 250.9v35.5 M1039.0 286.4h31.7 M1102.4 250.9v35.5 M1070.7 286.4h31.7 M1134.0 250.9v35.5 M1102.3 286.4h31.7 M1165.7 250.9v35.5 M1134.0 286.4h31.7 M1197.4 250.9v35.5 M1165.7 286.4h31.7 M1229.1 250.9v35.5 M1197.4 286.4h31.7 M1260.8 250.9v35.5 M1229.1 286.4h31.7 M1260.8 286.4h31.7 M912.2 286.4v35.5 M880.5 321.9h31.7 M943.9 286.4v35.5 M912.2 321.9h31.7 M975.6 286.4v35.5 M943.9 321.9h31.7 M1007.3 286.4v35.5 M975.6 321.9h31.7 M1039.0 286.4v35.5 M1007.3 321.9h31.7 M1070.7 286.4v35.5 M1039.0 321.9h31.7 M1102.4 286.4v35.5 M1070.7 321.9h31.7 M1134.0 286.4v35.5 M1102.3 321.9h31.7 M1165.7 286.4v35.5 M1134.0 321.9h31.7 M1197.4 286.4v35.5 M1165.7 321.9h31.7 M1229.1 286.4v35.5 M1197.4 321.9h31.7 M1260.8 286.4v35.5 M1229.1 321.9h31.7 M1292.5 286.4v35.5 M1260.8 321.9h31.7 M1292.5 321.9h31.7 M848.8 321.9v35.5 M880.5 321.9v35.5 M848.8 357.4h31.7 M912.2 321.9v35.5 M880.5 357.4h31.7 M943.9 321.9v35.5 M912.2 357.4h31.7 M975.6 321.9v35.5 M943.9 357.4h31.7 M1007.3 321.9v35.5 M975.6 357.4h31.7 M1039.0 321.9v35.5 M1007.3 357.4h31.7 M1070.7 321.9v35.5 M1039.0 357.4h31.7 M1102.4 321.9v35.5 M1070.7 357.4h31.7 M1134.0 321.9v35.5 M1102.3 357.4h31.7 M1165.7 321.9v35.5 M1134.0 357.4h31.7 M1197.4 321.9v35.5 M1165.7 357.4h31.7 M1229.1 321.9v35.5 M1197.4 357.4h31.7 M1260.8 321.9v35.5 M1229.1 357.4h31.7 M1292.5 321.9v35.5 M1260.8 357.4h31.7 M1292.5 357.4h31.7 M880.5 357.4v35.5 M848.8 392.9h31.7 M912.2 357.4v35.5 M880.5 392.9h31.7 M943.9 357.4v35.5 M912.2 392.9h31.7 M975.6 357.4v35.5 M943.9 392.9h31.7 M1007.3 357.4v35.5 M975.6 392.9h31.7 M1039.0 357.4v35.5 M1007.3 392.9h31.7 M1070.7 357.4v35.5 M1039.0 392.9h31.7 M1102.4 357.4v35.5 M1070.7 392.9h31.7 M1134.0 357.4v35.5 M1102.3 392.9h31.7 M1165.7 357.4v35.5 M1134.0 392.9h31.7 M1197.4 357.4v35.5 M1165.7 392.9h31.7 M1229.1 357.4v35.5 M1197.4 392.9h31.7 M1260.8 357.4v35.5 M1229.1 392.9h31.7 M1292.5 357.4v35.5 M1260.8 392.9h31.7 M1292.5 392.9h31.7 M848.8 392.9v35.5 M880.5 392.9v35.5 M848.8 428.4h31.7 M912.2 392.9v35.5 M880.5 428.4h31.7 M943.9 392.9v35.5 M912.2 428.4h31.7 M975.6 392.9v35.5 M943.9 428.4h31.7 M1007.3 392.9v35.5 M1039.0 392.9v35.5 M1070.7 392.9v35.5 M1134.0 392.9v35.5 M1165.7 392.9v35.5 M1197.4 392.9v35.5 M1229.1 392.9v35.5 M1260.8 392.9v35.5 M1292.5 392.9v35.5 M880.5 428.4v35.5 M848.8 463.9h31.7 M912.2 428.4v35.5 M880.5 463.9h31.7 M880.5 463.9v35.5 M848.8 499.4h31.7 M912.2 463.9v35.5 M880.5 499.4h31.7" stroke="#fff" stroke-opacity="0.10" stroke-width="1" fill="none" shape-rendering="auto"/>
</g>
<g id="bordersL" fill="none" stroke="#1d883b" stroke-linejoin="round" stroke-linecap="round"><path stroke-width="2.8" d="M246.8 142.8 L250.1 143.5 L252.1 142.8 L255.0 143.2 L257.7 143.6 L260.7 143.3 L262.7 144.0 L266.0 143.9 L267.8 144.0 L269.9 144.8 L273.1 144.2 L276.1 145.8 L277.9 145.3 L280.7 146.6 L282.1 146.8 L284.7 147.0 L288.2 147.9 L290.2 147.4 L293.1 148.7 L295.8 148.2 L299.4 148.1 L301.5 146.6 L303.7 147.4 L305.5 147.4 L308.2 147.0 L311.1 147.0 L314.3 148.5 L316.7 149.5 L320.1 150.8 L321.4 151.4 L325.1 152.4 L326.6 154.3 L326.8 157.1 L327.7 159.9 L329.3 161.3 L328.7 164.4 L329.3 167.2 L327.6 170.1 L326.8 171.4 L324.4 171.7 L320.9 172.2 L322.7 172.0 L326.0 172.5 L328.1 172.3 L330.1 170.6 L331.9 171.9 L335.2 173.1 L336.4 176.1 L336.9 179.0 L336.0 182.3 L337.6 180.2 L338.0 178.0 L340.2 175.6 L343.5 175.4 L347.1 176.7 L349.3 177.5 L351.9 178.7 L354.2 179.5 L356.2 180.4 L357.6 181.3 L360.3 182.9 L363.1 184.0 L365.4 184.6 L367.6 182.2 L370.3 181.9 L372.1 179.6 L375.1 179.3 L377.3 178.6 L378.8 177.0 L380.6 178.5 L382.2 180.4 L382.6 182.8 L382.8 186.6 L382.2 188.8 L380.7 190.7 L378.5 192.3 L375.5 193.9 L372.9 195.9 L371.3 198.0 L367.9 198.9 L367.2 201.1 L365.4 204.8 L368.1 205.3 L370.6 206.6 L372.9 206.5 L375.0 206.4 L377.3 204.9 L380.5 204.8 L383.3 204.8 L385.5 204.7 L387.2 205.7 L389.1 207.7 L392.3 209.0 L393.7 209.4 L397.5 209.7 L399.0 209.9 L400.5 207.1 L401.5 206.2 L402.4 204.0 L404.2 201.8 L405.5 200.9 L407.4 198.1 L409.1 196.4 L413.3 195.8 L414.3 195.0 L417.5 194.7 L420.6 195.1 L421.7 193.7 L424.4 193.0 L427.6 193.0 L429.6 192.9 L432.7 192.2 L432.4 194.6 L432.7 198.1 L433.1 194.2 L433.5 192.0 L434.9 190.4 L437.7 187.1 L439.4 185.4 L442.7 184.9 L444.5 182.9 L446.9 180.1 L448.1 179.3 L449.5 176.2 L451.5 176.0 L455.7 174.8 L457.9 174.5 L460.0 175.1 L462.8 174.8 L465.4 175.6 L468.0 176.2 L471.0 175.9 L473.3 175.4 L476.5 175.4 L479.6 174.1 L481.5 173.7 M486.6 187.3 L487.5 189.5 L490.2 190.0 L491.3 192.0 L493.6 193.4 L496.2 195.4 L497.5 195.5 L500.6 197.8 L503.6 196.8 L505.8 195.2 L507.6 195.6 L510.0 194.3 L511.8 194.5 L514.6 193.1 L516.8 194.0 L516.7 196.7 L519.8 198.1 L520.5 200.1 L522.7 201.1 L525.1 201.9 L528.6 203.6 L530.5 205.6 L532.1 207.0 L534.5 209.5 L533.4 212.3 L533.3 215.3 L530.6 214.7 L529.3 216.0 L526.6 215.6 L524.0 216.5 L522.6 216.0 L518.7 213.9 L517.0 213.0 L516.8 211.0 L516.6 208.2 L515.8 206.3 L514.6 203.6 M539.1 224.6 L540.2 227.8 L538.9 228.6 L540.6 232.1 L540.3 234.0 L541.2 236.0 L541.6 238.8 L542.2 240.4 L542.6 243.3 L543.1 245.4 L544.2 248.8 L545.2 250.4 L545.0 252.6 L545.3 254.5 L544.9 256.4 L546.1 259.6 L545.5 261.6 L544.7 265.0 L544.4 266.8 L543.8 269.0 L541.8 269.7 L540.4 271.4 L539.1 273.6 L537.2 276.1 L535.5 276.2 L533.3 278.3 L533.6 281.2 L532.9 283.7 L532.1 285.3 L534.5 287.4 L535.8 289.2 L538.0 289.9 L541.2 290.9 L543.1 293.4 L545.0 294.6 L546.7 296.4 L548.5 298.9 L550.3 300.4 L552.0 301.6 L553.3 304.6 L555.8 306.2 L556.6 308.6 L555.6 311.9 L554.7 313.7 L553.1 316.3 L553.5 318.3 L555.2 320.4 L556.5 322.9 L556.6 325.7 L558.5 327.7 L559.8 330.7 L560.1 332.7 L561.3 335.0 L561.6 338.1 L561.0 340.3 L561.3 344.5 L561.3 346.6 L560.1 348.2 L559.0 351.7 L557.7 353.1 L555.5 356.0 L556.3 357.5 L556.5 360.3 L556.6 363.0 L557.7 366.0 L559.0 367.7 L561.3 370.0 L561.9 371.9 L560.8 375.4 L561.3 377.0 L563.5 378.5 L565.1 379.1 L567.7 380.8 L570.6 381.6 L570.8 384.8 L571.6 386.7 L572.6 388.2 L574.9 390.3 L575.3 393.3 L574.5 396.0 L574.6 397.2 L575.5 399.7 L573.5 402.4 L574.1 405.0 L573.4 407.8 L571.6 409.3 L570.5 411.9 L570.9 414.7 L569.5 416.6 L569.0 419.7 L567.8 422.2 L565.9 424.0 L564.8 427.1 L562.1 427.9 L558.9 429.4 L556.7 427.4 L556.5 424.9 L554.3 423.6 L553.7 420.7 L552.8 417.6 L552.0 415.5 L550.5 414.3 L547.5 413.8 L545.0 413.1 L541.8 413.6 L539.7 413.1 L538.0 414.3 L538.7 415.6 L540.3 418.4 L542.6 420.1 L541.5 422.7 L540.3 423.6 M540.3 423.6 L537.5 424.5 L535.4 425.4 L533.3 426.0 L531.2 426.1 L527.7 428.4 L525.8 428.3 L524.8 429.6 L521.6 430.6 L519.9 431.5 L517.2 431.9 L514.9 434.1 L512.4 434.8 L510.0 435.3 L507.6 435.3 L505.0 437.0 L501.8 437.6 L499.5 438.7 L498.6 441.4 L496.0 443.4 L494.0 445.0 L491.7 445.9 L488.8 446.6 L486.6 446.9 L484.2 449.2 L482.6 449.1 L479.0 450.8 L477.3 452.8 L475.8 453.3 L472.9 453.6 L470.3 454.3 L468.0 455.1 L465.4 455.8 L463.5 457.0 L461.4 457.6 L458.7 457.4 L457.0 459.2 L454.3 458.5 L452.3 460.9 L449.3 460.9 L448.5 463.0 L446.7 464.4 L444.8 466.9 L443.7 469.3 L441.0 470.6 L439.7 473.7 M439.7 473.7 L437.6 475.5 L436.4 478.7 L438.3 479.6 L439.8 481.5 L443.5 483.7 L444.8 484.6 L447.5 485.5 L449.3 487.0 L451.5 488.8 L451.2 490.4 L451.6 494.1 L452.4 495.6 L451.6 498.0 L450.2 498.7 L448.0 501.4 L447.0 503.0 L448.9 506.2 L450.7 507.4 L451.5 510.7 L453.0 513.1 L454.1 514.3 L455.3 516.3 L456.6 519.1 L458.6 522.1 L459.2 523.3 L460.3 526.0 L462.8 527.9 L464.5 530.1 L465.6 531.1 L467.3 533.0 L469.8 532.9 L471.4 532.6 L474.3 533.0 L476.6 534.5 L477.0 537.9 L479.2 540.0 L481.3 542.3 L483.1 543.9 L485.9 545.5 L486.7 547.3 L489.0 549.3 L490.6 551.6 L492.2 553.4 L494.0 554.5 L497.0 555.1 L497.3 556.7 L500.0 558.6 L502.8 560.0 L504.2 560.6 L506.4 562.1 L509.3 563.3 L509.9 566.0 L512.9 568.8 L514.1 571.1 L515.1 572.6 M515.1 572.6 L515.6 575.4 L516.2 578.1 L516.4 580.4 L516.3 582.0 L513.9 583.5 L514.0 585.3 L511.6 586.6 L510.0 585.1 L506.9 584.6 L504.6 584.3 L502.9 586.2 L500.2 587.3 L499.0 590.3 L497.6 591.3 L497.5 593.0 L497.0 595.3 L496.1 597.6 L495.3 600.6 L492.1 602.1 L490.1 601.8 L489.2 603.9 L486.0 604.1 L483.3 605.8 L481.4 606.2 L478.4 607.5 L476.6 607.6 L474.6 609.6 L472.7 609.6 L469.4 610.5 L467.3 612.3 L465.5 613.9 L464.6 617.2 L463.8 619.3 L464.1 621.9 L465.9 623.6 L467.9 626.2 L468.5 628.6 L469.6 630.6 L471.8 631.9 L473.7 633.9 L474.3 636.8 L474.0 640.0 L471.9 642.5 L472.0 644.5 L474.6 644.9 L477.7 645.0 L478.1 646.3 L480.3 649.2 L479.2 652.8 L478.6 655.3 L478.6 657.6 L478.1 660.9 L476.0 662.7 L472.8 661.6 L470.1 661.0 L468.7 659.8 L466.6 658.0 L465.9 655.9 L465.6 654.3 L463.4 652.2 L463.4 649.2 L460.4 648.6 L459.1 649.4 L456.7 648.3 L454.1 649.9 L452.2 649.7 L449.9 650.9 L447.1 648.6 L444.9 647.5 L441.9 645.9 L440.7 646.4 L438.1 644.5 L436.4 646.4 L436.8 649.9 L434.8 652.5 L432.1 652.0 L429.9 653.1 L427.1 652.4 L424.7 652.5 L421.1 653.5 L418.2 653.1 L416.2 653.4 L414.0 653.0 L411.0 654.7 L407.8 654.2 L406.4 656.4 L403.8 657.5 L402.8 659.3 L399.9 660.8 L397.9 660.9 L396.0 661.8 L395.2 664.1 L393.5 665.1 L391.0 666.9 L388.4 666.9 L385.9 666.0 L383.6 666.2 L381.3 666.5 L379.2 667.7 L376.4 667.3 L374.1 665.2 L373.8 663.5 L371.9 661.0 L370.8 659.3 L367.8 658.3 L366.8 658.8 L364.0 657.6 L361.5 657.5 L360.0 656.8 L357.3 655.9 L355.1 656.1 L352.0 655.7 L349.7 655.1 L349.3 658.0 L349.7 661.0 L349.9 663.6 L348.8 666.3 L348.9 667.7 L347.5 669.5 L344.6 671.2 L343.8 672.8 L341.1 674.2 L339.3 675.6 L337.1 676.1 L336.9 674.1 L336.2 671.1 L333.8 669.7 L332.0 667.7 L331.3 666.1 L329.5 663.9 L328.6 661.0 L327.0 660.2 L325.0 659.6 L321.9 657.6 L320.2 655.1 L318.5 652.5 M333.7 646.7 L332.0 647.8 L329.1 647.3 L326.9 648.3 L323.2 649.5 L321.2 650.5 L318.5 650.9 L315.8 653.0 L313.5 654.2 L310.8 655.9 L309.4 656.3 L306.7 657.6 L304.0 657.2 L301.2 656.2 L298.5 655.0 L297.5 653.2 L295.4 652.7 L292.8 651.1 L290.6 649.7 L286.5 649.4 L284.4 647.7 L282.1 647.6 L278.1 647.2 L276.0 647.7 L274.1 646.5 L272.6 646.2 L269.1 645.5 L267.5 644.4 L265.6 643.8 L264.9 641.6 L262.5 640.2 L260.5 640.3 L258.6 640.5 L255.8 639.3 L252.4 640.8 L250.7 642.7 L251.7 644.8 L252.4 647.7 L254.8 647.5 L257.6 648.9 L259.1 649.4 L255.9 651.4 L254.1 652.8 L251.5 652.5 L249.5 652.7 L247.3 653.6 L244.0 654.0 L242.1 652.2 L238.9 652.8 L237.2 653.1 L234.1 655.8 L232.2 656.2 L229.6 655.3 L226.4 654.9 L223.8 654.5 L220.3 656.0 L217.4 655.5 L215.4 656.2 L213.6 654.9 L211.7 653.5 L208.6 652.8 L208.4 651.3 L206.7 649.0 L205.3 646.1 M205.3 646.1 L205.2 642.6 L206.1 639.7 L206.1 637.6 L206.8 634.8 L206.6 632.6 L207.1 629.9 L208.6 627.5 L208.1 624.0 L209.1 622.5 L209.5 619.1 L209.4 616.1 L211.0 614.9 L211.5 611.3 L212.0 609.0 L213.7 605.7 L214.3 603.6 L213.9 600.7 L215.4 598.9 L215.9 596.9 L216.5 594.0 L218.1 591.1 L218.7 588.8 L220.1 585.5 L220.5 583.2 L222.8 581.1 L223.8 578.7 L224.8 576.8 L226.4 574.3 L228.3 573.0 L228.7 570.8 L230.5 568.6 L231.9 567.3 L233.6 564.2 L235.4 561.9 L235.7 561.0 L237.2 558.5 L238.5 557.6 L241.0 556.8 M241.0 556.8 L237.8 557.1 L234.5 557.7 L231.5 556.9 L229.4 556.3 L225.9 555.3 L224.7 554.6 L221.0 554.6 L218.5 554.0 L215.3 553.5 L212.6 552.9 L209.2 552.4 L206.3 550.2 L204.2 549.5 L200.8 547.4 L199.1 546.2 L196.7 547.5 L194.4 546.6 L192.4 547.8 L189.2 548.2 L186.0 546.9 L184.0 546.2 L181.5 544.8 L179.2 543.1 L177.2 541.1 L174.4 542.5 L172.3 543.5 L168.8 544.5 L166.5 542.0 L166.3 541.1 L163.8 539.4 L161.5 538.0 L160.5 535.3 L158.7 532.7 L158.3 530.1 L156.2 528.9 L155.4 526.0 L152.5 525.6 L150.1 524.6 L148.6 523.4 L148.1 521.3 L146.9 517.5 L148.7 515.3 L148.6 512.4 L150.3 510.8 L151.8 508.6 L152.3 507.1 L154.5 504.1 L153.3 501.9 L152.0 499.0 L149.3 496.9 L146.7 495.4 L145.3 494.0 L143.2 492.2 L141.7 491.2 L140.9 488.3 L138.5 487.2 L137.5 484.4 L137.1 483.6 L136.0 480.5 L136.3 478.2 L137.3 474.0 L138.5 472.1 L140.7 469.6 L141.3 467.5 L143.6 465.4 L145.4 463.3 L148.0 461.3 L150.3 459.5 L149.3 456.6 L147.3 453.7 L146.9 451.9 L144.5 449.7 L143.3 448.0 L141.9 445.2 L139.4 443.6 L136.8 441.2 L135.7 438.2 L132.0 436.1 L130.9 434.5 L131.0 432.4 L131.9 429.7 L131.8 427.7 L131.2 424.6 L129.6 422.7 L127.6 421.0 L127.3 417.9 L126.6 417.0 L124.8 414.3 L127.2 412.7 L127.2 411.7 L129.3 409.2 L131.4 406.8 L134.0 405.9 L136.0 404.2 L136.2 400.8 L135.9 398.7 L136.8 395.8 L137.6 393.0 L138.4 392.0 L139.7 389.4 L140.2 387.3 L140.0 384.2 L139.7 381.2 L140.2 378.9 L138.9 376.1 L138.1 375.1 L136.7 371.7 L135.2 370.5 L133.0 368.1 L130.5 366.9 L129.3 363.8 L130.0 361.3 L130.2 358.2 L130.1 356.2 L132.4 355.7 L136.1 355.3 L138.5 354.5 L140.4 355.5 L144.8 356.6 L146.9 357.0 L149.9 357.3 L150.9 355.6 L153.7 355.4 L156.3 355.4 L158.5 354.5 L161.9 352.9 L163.8 352.0 L165.7 351.1 L167.6 348.2 L168.8 346.9 L168.6 344.1 L166.9 343.3 L166.3 340.2 L168.8 338.2 L169.7 337.1 L172.6 335.5 L173.9 333.5 L176.8 332.2 L178.7 330.3 L180.0 328.3 L182.3 326.7 L182.5 324.0 L182.8 321.2 L181.8 318.2 L179.5 316.1 L176.4 316.1 L174.4 315.1 L171.8 315.4 L170.2 314.4 L167.8 312.6 L166.8 311.6 L164.3 310.2 L163.9 307.9 L164.3 304.3 L166.1 303.0 L169.1 302.6 L170.2 301.0 L173.0 300.4 L175.5 300.8 L177.9 300.2 L180.1 300.8 L182.0 300.1 L181.8 297.4 L182.0 294.2 L183.1 292.3 L183.9 289.1 L183.7 285.8 L184.4 283.8 L186.8 280.6 L187.9 279.1 L188.5 277.2 L189.9 274.8 L189.0 271.7 L190.4 269.0 L191.2 266.7 L190.4 263.0 L191.6 261.8 L191.3 258.4 L191.2 256.0 M182.0 251.5 L181.7 248.5 L180.9 246.6 L180.4 243.2 L181.1 240.4 L182.7 236.8 L182.9 234.9 L183.7 231.9 L184.1 228.7 L186.2 226.0 M257.7 211.7 L256.7 213.8 L255.6 215.7 L254.4 218.5 L254.7 221.9 L254.1 223.5 L253.5 226.9 L254.1 229.1 L254.2 232.8 L255.2 234.5 L258.6 234.1 L260.3 235.3 L260.5 237.6 L259.4 239.5 L257.1 240.0 L255.2 241.2 L255.2 243.7 L255.0 246.6 L254.4 248.8 L254.4 251.3 M257.7 211.7 L260.2 212.3 L262.8 212.6 L265.2 213.9 L266.1 215.6 L267.8 216.8 L269.5 217.1 L272.6 217.9 L274.6 217.6 L276.1 216.4 L278.3 216.5 L281.3 215.1 L283.9 213.7 L286.6 214.8 L288.0 213.4 M277.9 211.7 L280.4 212.4 L283.2 211.9 L284.6 212.7 L288.0 213.4 L289.7 214.8 L292.6 215.3 L294.5 216.2 L296.5 216.8 L297.5 218.9 L299.2 222.0 L301.5 223.5 L302.0 226.2 L303.3 228.0 L305.0 229.6 L306.6 231.9 L309.4 232.4 L310.3 235.4 L313.3 236.1 L315.9 235.4 L318.4 236.1 M318.4 236.1 L320.2 235.0 L323.2 233.9 L325.1 231.9 L326.8 230.0 L328.9 228.6 L331.8 227.7 L334.8 225.8 L336.9 225.2 L338.2 227.2 L339.4 230.3 L338.8 232.4 L339.5 235.0 L338.6 237.0 L338.8 238.5 L340.1 241.5 L341.8 242.7 L344.4 244.8 L346.5 246.1 L348.0 247.2 L351.5 248.3 L352.9 248.9 L355.9 249.3 L358.6 249.4 M318.4 236.1 L318.5 239.0 L320.0 241.2 L322.8 243.7 L325.1 244.6 L327.6 243.7 L331.0 243.7 L334.0 245.0 L335.8 246.1 L338.8 246.8 L340.9 247.4 L342.7 246.5 L346.4 246.8 L348.0 247.2 M365.4 204.8 L368.3 205.4 L370.0 207.1 L372.6 208.4 L373.8 210.7 L372.5 212.2 L370.5 213.9 L367.9 214.1 L366.9 216.6 L367.1 219.3 L366.2 222.5 L367.7 223.1 L370.8 225.4 L372.1 225.9 L373.9 227.9 L374.6 230.9 L374.5 233.9 L372.9 236.8 L370.2 238.1 L368.3 238.8 L366.2 241.0 L364.3 242.1 L362.4 244.6 L360.3 245.2 L359.7 247.1 L358.6 249.4 M358.6 249.4 L360.2 250.7 L362.1 252.0 L364.1 253.5 L366.2 255.5 L368.1 257.1 L370.8 258.6 L372.0 259.5 L374.7 260.5 L377.5 262.0 L379.2 263.6 L382.5 265.6 L384.4 266.6 L387.6 267.0 L390.3 268.2 L391.0 268.6 L394.2 269.2 L396.1 270.4 L398.4 271.2 L401.3 273.1 L404.5 273.7 M396.1 270.4 L397.8 269.3 L400.3 266.6 L401.6 265.7 L403.1 262.9 L404.5 261.9 L405.9 260.6 L409.4 259.3 L411.2 258.6 L413.4 258.0 L416.3 258.8 L417.9 257.7 L420.0 257.5 L421.6 256.1 L424.7 254.4 L427.5 252.7 L429.3 252.4 L431.8 250.7 L433.1 250.2 L435.4 251.4 L437.8 250.9 L439.8 251.8 L441.8 253.7 L445.4 255.0 L448.2 255.2 L450.1 256.6 L453.9 257.7 L455.0 257.5 L458.4 258.6 L460.4 259.9 L463.7 261.1 L466.8 261.1 L469.4 262.1 L473.1 261.6 L475.2 262.5 L477.5 262.0 L479.7 259.6 L481.9 258.6 L484.2 258.3 L486.8 257.1 L490.1 256.1 L492.9 255.0 L494.9 254.1 L498.3 252.6 L501.0 249.9 L501.9 248.7 L504.1 245.6 L506.3 243.7 L507.3 243.2 L510.0 241.2 L512.3 239.8 L514.6 237.5 L515.8 239.3 L518.1 240.2 L519.3 242.1 L520.9 244.1 L524.7 243.6 L526.3 245.6 L528.7 245.7 L530.8 245.5 L534.1 244.9 L535.6 244.5 L536.6 246.9 L538.0 250.3 L536.0 251.6 L534.2 253.6 L533.3 256.1 L536.2 256.6 L538.5 257.7 L540.3 257.3 L543.5 255.8 L545.5 256.0 M404.5 273.7 L402.2 276.3 L400.8 277.7 L399.4 280.5 L396.6 281.6 L393.8 282.6 L391.0 283.8 L387.8 282.5 L385.7 281.8 L382.6 281.3 L380.1 282.7 L377.7 283.8 L374.2 283.8 L371.2 283.9 L369.6 285.1 L366.6 285.5 L365.8 288.1 L366.7 290.6 L365.8 292.2 L366.4 294.1 L367.1 297.6 L369.1 299.0 L370.9 301.1 L373.7 302.5 L375.9 304.0 L376.2 306.9 L376.6 308.2 L376.7 310.8 L376.8 313.0 L379.1 314.6 L379.2 317.5 L380.4 320.0 L380.3 321.4 L381.8 324.2 L381.8 326.4 L381.0 328.7 L380.9 331.0 L379.0 333.6 L378.8 335.5 L377.5 337.7 L375.0 339.4 L373.6 340.0 L370.8 341.1 L367.3 341.0 L364.6 341.4 L362.4 342.7 L359.7 344.1 L356.5 345.3 L356.8 348.5 L358.4 350.8 L359.0 352.8 L358.7 355.4 L357.4 358.2 L356.5 359.6 L357.1 362.6 L359.0 365.0 L360.8 367.2 L361.8 369.0 L362.4 371.8 M404.5 273.7 L407.1 274.8 L409.0 274.9 L411.2 275.4 L413.2 278.0 L415.3 278.2 L417.9 280.5 L419.7 281.2 L422.1 282.3 L424.7 283.8 L426.8 283.8 L430.0 284.5 L433.1 284.7 L435.1 285.2 L438.1 287.2 L437.6 290.1 L437.9 293.2 L438.1 295.6 L437.5 297.7 L435.2 300.5 L434.8 302.3 L434.8 305.1 L433.9 308.2 L436.7 308.1 L439.7 309.4 L441.5 309.1 L441.5 312.7 L439.9 314.8 L439.8 317.5 L439.6 320.8 L438.5 322.4 L438.1 325.9 L438.3 327.4 L438.5 329.5 L438.1 332.6 L439.7 335.1 L441.5 337.7 L443.0 339.3 L446.0 340.8 L448.2 342.7 L451.5 344.2 L454.0 343.9 L455.0 345.0 L458.4 346.1 L460.2 347.7 L463.0 348.0 L465.6 349.8 L468.5 351.2 L471.4 352.0 L473.2 353.2 L475.3 353.2 L478.6 354.5 L481.7 355.3 L483.5 354.3 L487.0 355.4 L486.2 358.6 L485.3 361.3 L485.5 365.1 L483.7 367.9 L483.6 371.0 M483.6 371.0 L482.1 370.8 L479.6 370.6 L476.9 369.3 L473.7 369.5 L472.0 370.0 L468.5 369.3 L466.1 369.3 L463.3 371.4 L460.2 370.8 L458.4 371.8 L456.7 372.4 L452.8 372.8 L451.5 373.5 L448.2 374.4 L445.3 374.9 L443.2 374.9 L439.8 375.2 L436.9 377.0 L435.6 378.6 L434.5 380.7 L434.5 384.5 L434.8 387.0 L434.1 390.1 L433.6 391.9 L433.9 395.4 L433.9 398.6 L436.3 400.5 L436.5 403.8 L437.1 405.2 L439.0 408.0 L439.8 410.6 M483.6 371.0 L483.6 374.1 L485.1 376.5 L485.5 379.3 L485.0 382.6 L486.1 384.8 L485.5 387.5 L487.8 387.6 L490.1 388.6 L492.2 387.8 L496.0 387.5 L498.5 387.5 L501.2 388.6 L503.0 389.8 L504.8 389.0 L508.5 390.2 L510.7 390.0 L512.3 389.8 L514.1 389.2 L517.5 388.5 L521.0 388.7 L522.8 388.6 L524.1 387.2 L526.0 385.5 L528.6 382.8 L530.8 381.3 L533.0 379.6 L535.6 378.1 L537.4 377.3 L540.9 377.6 L542.6 378.1 L545.5 377.0 L548.1 377.7 L550.1 376.8 L552.0 375.8 L554.5 376.5 L556.0 376.4 L559.6 376.2 L561.3 377.0 M362.4 371.8 L366.0 371.2 L367.1 372.7 L370.8 371.8 L371.6 372.8 L373.9 374.9 L375.0 376.9 L376.0 379.2 L376.4 382.2 L375.9 385.3 L378.9 386.6 L381.8 387.2 L384.3 387.0 L387.5 386.5 L390.6 387.7 L392.7 387.8 L394.0 388.6 L396.7 390.7 L397.7 392.0 L399.3 395.0 L399.4 397.1 L398.1 398.9 L395.2 400.5 L396.4 402.9 L396.4 405.8 L397.7 407.2 L399.6 408.3 L403.1 408.6 L404.5 408.9 L406.1 409.5 L409.3 408.3 L411.2 408.9 L412.1 411.1 L414.6 413.1 L416.6 414.4 L420.2 414.3 L423.0 414.8 L425.3 416.7 L428.0 418.1 L431.6 418.3 L433.4 419.4 L436.5 419.8 L437.8 418.3 L439.8 416.4 L439.9 413.4 L439.8 410.6 M439.8 410.6 L443.4 411.1 L446.1 409.3 L448.2 409.7 L450.3 411.0 L452.2 411.8 L454.1 413.9 L454.8 415.9 L456.1 418.0 L457.1 419.5 L459.2 422.3 L457.6 423.3 L455.3 425.0 L453.3 425.7 L450.2 426.0 L448.2 428.1 L444.9 429.1 L443.5 430.7 L442.3 431.7 L439.8 433.3 L441.1 436.0 L441.5 439.2 L439.1 441.1 L436.5 442.5 L433.9 443.2 L431.9 445.8 L429.7 446.8 L427.6 448.1 L425.5 449.0 L423.0 451.0 L421.6 453.2 L421.3 456.0 M421.3 456.0 L423.4 458.3 L424.1 460.3 L426.4 461.1 L427.5 463.1 L429.0 464.9 L431.4 466.1 L432.5 468.7 L435.2 471.0 L436.5 472.8 L439.7 473.7 M320.3 388.7 L322.9 388.6 L326.5 386.5 L328.7 386.1 L331.5 385.3 L332.1 384.8 L334.6 382.6 L337.1 381.9 L339.2 381.0 L341.0 380.0 L343.9 378.6 L346.2 377.2 L347.8 376.0 L348.9 374.4 L352.3 374.1 L354.2 374.9 L357.3 375.2 L359.1 374.4 L362.4 371.8 M182.0 328.7 L185.0 327.3 L186.5 327.2 L188.8 326.7 L192.1 325.4 L195.1 323.5 L197.5 323.3 L199.9 323.1 L202.2 321.2 L205.3 319.1 L207.3 317.8 L208.9 315.3 L211.4 312.8 L212.3 311.9 L214.8 313.5 L215.7 316.1 L217.3 317.4 L220.8 319.2 L222.4 319.5 L224.3 321.7 L226.6 322.8 L226.0 326.1 L226.8 327.8 L226.7 329.3 L227.7 332.6 L225.6 335.7 L225.2 338.5 L227.4 340.8 L229.4 341.9 L232.8 340.9 L235.6 339.7 L237.8 339.4 L241.3 338.1 L244.3 337.5 L246.3 336.8 L248.4 335.7 L250.0 333.8 L253.0 333.5 L252.9 331.6 L251.8 328.7 L252.5 326.5 L251.2 324.7 L251.2 321.1 L249.3 319.5 L247.3 316.7 L245.1 315.3 L248.6 314.8 L251.0 312.7 L253.6 311.4 L254.6 309.2 L257.7 308.5 L259.5 308.3 L261.6 310.5 L264.5 310.2 L265.1 313.9 L266.2 316.1 L268.9 317.2 L271.4 317.6 L272.9 317.8 L274.9 316.6 L277.2 314.7 L279.6 314.4 L280.5 312.9 L283.0 311.1 L284.3 313.6 L285.5 314.4 L284.9 317.2 L283.8 319.1 L283.0 321.2 L281.9 322.9 L279.6 326.2 L278.8 328.5 L279.4 330.9 L279.9 333.5 L281.4 334.6 L283.7 337.0 L286.7 338.5 L287.0 339.9 L289.2 342.9 L290.0 345.3 L290.8 348.3 L293.4 350.6 L295.1 352.0 L297.3 353.2 L298.8 353.5 L301.0 355.4 L301.8 357.5 L300.7 359.2 L301.0 362.1 L300.3 365.2 L299.2 367.1 L298.5 368.8 M298.5 368.8 L297.6 371.4 L297.1 372.8 L295.1 375.6 L292.6 378.1 L291.4 379.2 L290.0 381.4 L288.1 382.1 L285.0 384.0 L283.2 382.3 L279.9 380.6 L276.6 382.2 L274.9 382.3 L273.3 383.6 L271.5 386.5 L269.9 387.8 L267.5 388.5 L264.8 389.0 L263.1 389.8 L259.7 392.4 L260.2 395.2 L258.9 397.4 L261.4 398.1 L264.8 398.3 L264.5 401.5 L264.8 404.2 L262.6 405.9 L259.7 407.5 L257.3 409.9 L256.4 412.6 L255.2 415.5 L254.7 417.6 L252.9 419.8 L249.6 421.0 L247.2 421.7 L244.6 423.5 L242.4 424.4 L239.5 426.1 L238.7 428.0 L236.2 431.1 L236.7 432.4 L236.1 435.2 L235.3 437.6 M298.5 368.8 L300.0 368.7 L303.1 369.4 L305.2 370.5 L306.8 371.0 L309.5 371.1 L311.9 372.2 L311.7 375.0 L311.2 376.1 L311.9 378.9 L310.5 380.7 L310.0 384.3 L310.2 385.7 L308.2 388.2 L306.9 389.0 L307.9 391.4 L310.2 392.4 L312.8 393.6 L315.3 394.1 L317.3 391.9 L318.2 390.8 L320.3 388.7 M320.3 388.7 L322.1 389.8 L324.3 391.1 L325.4 392.9 L327.7 394.0 L329.7 396.6 L332.1 397.1 L333.6 398.7 L336.1 400.2 L338.8 402.1 L339.4 404.6 L338.5 407.6 L338.0 410.6 L336.4 412.2 L333.5 413.8 L332.1 415.6 L330.0 417.5 L328.3 417.9 L326.2 419.8 L327.4 422.4 L327.9 425.7 L326.9 427.3 L325.6 430.4 L324.8 432.5 L323.7 434.1 L323.9 436.5 L323.4 438.4 L322.8 440.9 L325.5 441.4 L327.1 441.7 L330.4 440.9 L331.0 443.2 L332.0 446.7 M332.0 446.7 L330.4 448.6 L327.8 451.5 L326.9 453.5 L323.6 454.2 L321.1 456.0 L318.5 456.8 L317.7 459.0 L316.1 462.3 L313.6 463.7 L310.9 464.6 L308.5 467.6 L306.9 468.7 L305.4 472.0 L303.5 473.8 L301.8 475.7 L298.5 477.1 L295.7 475.8 L292.0 476.6 L290.0 475.5 L287.5 476.8 L284.5 477.5 L281.6 478.0 L280.1 480.8 L278.2 482.2 L278.1 485.0 L279.0 488.4 L279.9 490.6 L281.1 493.0 L280.3 495.7 L281.6 499.0 L282.4 501.8 L283.7 504.0 L285.0 505.8 L284.3 508.1 L283.8 510.5 L284.1 512.5 M332.0 446.7 L333.9 447.1 L337.4 449.3 L340.4 450.1 L341.8 451.1 L344.1 453.9 L346.1 455.6 L348.8 456.8 L351.4 457.8 L353.4 460.1 L355.6 461.9 L356.5 465.0 L357.1 465.5 L358.9 468.6 L362.2 469.3 L364.0 470.3 L366.0 468.3 L369.0 466.9 L366.3 466.1 L364.0 463.6 L364.3 461.0 L365.7 459.4 L368.7 459.2 L372.1 459.4 L374.1 458.5 L376.6 458.5 L380.3 460.5 L382.5 460.2 L383.3 462.6 L386.5 464.4 L387.5 466.1 L388.7 464.5 L390.9 461.9 L391.6 458.5 L391.8 455.8 L391.8 453.5 L393.1 451.1 L396.0 449.3 L397.4 450.4 L399.3 451.8 L401.3 454.9 L402.7 456.8 L406.3 458.0 L409.2 457.9 L411.1 457.7 L413.3 456.7 L416.4 456.9 L419.1 455.7 L421.3 456.0 M235.3 437.6 L232.4 435.5 L231.1 434.5 L229.6 433.0 L228.8 430.4 L227.7 427.7 L224.9 426.1 L223.5 424.4 L222.9 422.3 L221.0 420.2 L220.1 422.1 L217.6 422.7 L216.6 424.3 L216.0 427.7 L214.8 428.5 L211.7 431.0 L210.9 432.0 L208.7 433.7 L206.1 433.7 L202.5 435.3 L199.5 435.7 L198.9 436.7 L195.8 438.5 L192.6 439.0 L190.7 441.2 L187.4 441.1 L185.7 442.6 L183.3 442.8 L181.1 445.1 L178.7 445.7 L177.2 446.0 L175.4 447.8 L172.9 449.8 L170.5 451.0 L169.5 452.5 L167.9 454.5 L167.1 456.9 L164.1 458.3 L161.4 457.3 L158.7 458.6 L155.9 459.5 L153.0 459.6 L150.3 459.5 M235.3 437.6 L235.9 440.8 L236.2 443.5 L235.1 445.3 L233.1 448.7 L231.1 450.2 L231.3 451.9 L230.2 454.9 L229.4 456.9 L231.1 460.0 L232.9 461.3 L234.5 463.7 L233.6 465.6 L230.7 466.7 L229.4 468.7 L227.2 469.6 L225.1 472.5 L222.7 473.8 L221.2 476.7 L220.7 478.4 L218.5 480.5 L220.2 481.8 L220.5 485.3 L222.7 486.4 L225.1 485.1 L229.0 485.2 L231.1 483.9 L233.2 482.7 L236.2 481.8 L239.5 481.3 L240.3 482.8 L242.5 484.0 L244.6 485.6 L244.9 487.7 L245.4 491.9 L247.1 494.0 L248.7 496.9 L248.7 499.0 L250.5 502.4 L249.5 504.3 L249.1 506.5 L249.6 509.1 L250.2 510.8 L252.1 513.6 L253.0 515.9 M253.0 515.9 L253.6 518.9 L254.8 522.2 L254.7 524.3 L255.1 526.9 L254.9 529.8 L253.8 532.7 L252.4 534.1 L251.7 536.3 L250.2 539.2 L249.6 541.1 L249.5 543.8 L247.7 544.8 L247.9 547.8 L246.4 550.4 L246.3 553.4 L244.6 555.4 L241.0 556.8 M253.0 515.9 L255.6 515.5 L258.0 514.2 L260.6 514.0 L262.3 512.5 L263.2 515.8 L264.8 517.5 L267.4 519.6 L269.8 520.9 L271.6 523.4 L272.4 524.3 L274.9 522.8 L278.2 521.7 L280.3 520.5 L282.1 518.7 L283.3 517.5 L284.5 514.1 L284.1 512.5 M284.1 512.5 L286.7 512.5 L290.0 510.8 L293.1 510.7 L295.1 509.8 L296.8 508.3 L296.8 505.6 L298.5 502.4 L300.5 501.1 L303.5 499.0 L305.6 499.9 L308.0 500.8 L310.2 501.5 L313.0 503.8 L314.3 504.9 L316.8 505.7 L319.2 507.7 L319.5 510.2 L321.9 512.4 L323.6 514.5 L323.8 517.0 L325.3 519.4 L326.9 520.8 L328.6 520.4 L331.2 520.5 L333.7 519.1 L333.6 522.6 L334.7 524.5 L335.4 527.5 L335.1 530.0 L336.6 533.4 L336.8 535.3 L336.2 537.6 L336.7 540.5 L338.2 543.4 L339.6 545.3 L341.3 547.1 L341.6 550.1 L342.8 551.2 L344.4 552.7 L346.2 554.9 L348.4 556.8 L349.6 559.4 L349.4 561.6 L349.0 564.5 L350.0 566.9 L350.5 568.6 L350.5 571.3 L350.7 574.0 L350.5 576.7 L347.8 577.3 L346.8 579.3 L343.5 581.3 L342.1 581.8 L340.6 583.6 L338.9 585.9 L338.7 588.5 L336.0 590.3 L332.7 590.8 L330.3 591.9 L328.7 595.0 L328.3 597.3 L327.8 600.3 L328.4 603.0 L330.8 603.8 L330.9 605.9 L332.0 608.7 L332.8 611.8 L332.0 613.7 L332.7 615.7 L333.5 617.9 L333.7 620.5 L334.0 622.9 L333.7 625.6 L333.6 628.0 L333.4 630.6 L333.7 634.0 L333.9 636.4 L333.6 639.8 L333.1 641.7 L333.9 644.4 L333.7 646.7 M154.5 510.0 L157.2 510.7 L159.4 513.6 L162.1 514.5 L163.8 515.9 L166.8 514.8 L169.5 513.5 L172.2 513.3 L175.1 513.1 L176.9 512.2 L180.2 511.9 L182.3 511.6 L185.9 513.0 L188.5 512.0 L190.7 513.3 L191.1 514.9 L192.7 517.6 L194.1 519.2 L195.3 521.6 L195.5 523.9 L195.8 526.0 L196.4 527.7 L198.1 529.2 L200.0 531.0 L197.0 533.4 L195.8 535.2 L195.7 537.4 L194.1 541.1 L195.9 541.9 L197.2 543.9 L199.1 546.2 M378.2 172.8 L380.0 169.5 L381.7 168.9 L384.7 168.4 L387.6 169.3 L389.5 169.5 L391.3 172.8 L389.5 176.2 L387.5 176.6 L384.7 177.2 L382.9 176.8 L380.0 176.2 L378.2 172.8Z M253.5 258.9 L256.2 259.5 L259.4 261.9 L261.1 262.2 L263.3 263.1 L265.1 262.8 L267.8 263.9 L269.7 264.5 L271.8 265.3 L274.6 264.8 L275.9 265.5 L278.8 267.3 L277.6 270.3 L277.9 272.3 L275.4 272.5 L273.1 273.1 L271.2 273.2 L268.5 271.8 L266.2 271.5 L264.4 269.0 L262.8 267.3 L260.4 266.5 L259.7 264.8 L257.7 263.1 L256.3 260.8 L253.5 258.9Z M482.0 316.3 L481.6 313.7 L482.0 311.0 L483.0 307.6 L483.1 305.0 L485.6 303.5 L486.9 301.7 L490.1 300.0 L492.7 299.9 L495.5 300.1 L496.9 299.0 L499.5 299.3 L500.4 301.8 L502.9 303.4 L504.1 305.1 L506.0 306.7 L507.7 308.3 L509.6 310.0 L512.3 311.3 L512.1 314.3 L511.0 316.0 L511.1 319.5 L509.0 321.0 L507.6 321.8 L505.3 321.1 L502.8 319.3 L501.4 317.8 L498.3 317.2 L495.0 317.5 L493.1 317.4 L490.1 317.7 L487.5 317.1 L485.0 317.5 L482.0 316.3Z"/><path stroke-width="4.2" d="M251.0 153.5 L252.5 153.1 L256.0 153.2 L258.0 154.0 M481.5 173.7 L480.8 172.2 L479.6 169.2 L479.1 166.3 L479.6 164.0 L482.4 163.2 L484.2 162.1 L486.6 160.5 L488.9 161.7 L491.5 161.0 L493.8 162.2 L496.0 162.8 L498.4 161.9 L501.0 161.5 L503.0 161.7 L504.2 162.8 L505.6 164.2 L507.6 166.3 L507.7 168.9 L506.0 171.1 L506.5 173.3 L507.3 175.5 L509.4 177.3 L511.1 179.2 L509.8 181.5 L507.6 182.7 L505.6 181.5 L502.2 181.3 L500.6 180.3 L499.1 178.7 L498.2 175.1 L496.0 173.3 L494.1 171.4 L492.5 168.7 L491.6 171.9 L490.0 173.2 L490.1 175.7 L491.6 178.8 L491.9 179.9 L492.9 182.3 L493.6 185.0 L491.6 185.5 L488.4 186.7 L486.6 187.3 L485.6 184.9 L483.7 182.8 L482.0 180.3 L481.6 176.7 L481.0 175.6 L480.8 172.2 M484.0 165.0 L487.5 164.8 L490.0 164.0 L492.2 164.1 L495.0 166.2 L497.0 166.0 L499.9 166.4 L503.0 165.5 L503.2 167.8 L505.0 170.0 L503.0 172.5 L502.0 175.0 L500.2 177.1 L498.0 178.0 L500.5 180.2 L503.0 181.0 L505.2 180.3 L508.0 181.0 M484.0 170.0 L484.3 172.6 L486.2 173.5 L487.0 176.0 L488.5 179.2 L489.0 182.0 L490.6 184.2 L491.0 186.0 M447.0 179.0 L449.3 176.8 L452.0 176.0 L455.1 174.8 L457.9 175.0 L460.4 175.0 L463.3 175.1 L466.3 175.3 L468.0 176.4 L470.1 176.4 L474.5 176.4 L476.5 175.4 L479.6 173.9 L481.5 173.7 M514.6 196.0 L516.4 198.2 L518.6 199.7 L520.5 201.5 L523.3 202.0 L525.7 203.5 L527.0 204.5 L528.1 206.6 L530.2 208.7 L532.5 209.5 L532.1 211.5 L531.0 214.5 L529.5 214.5 L527.1 214.3 L524.0 215.5 L521.6 214.6 L519.6 212.9 L518.0 212.0 L516.6 209.9 L517.3 207.0 L516.0 205.0 L517.3 207.9 L518.4 211.6 L519.0 213.5 L520.4 215.9 L521.6 218.8 L523.9 220.1 L527.2 221.6 L528.3 220.9 L531.8 222.0 L533.3 223.5 L536.5 223.4 L539.1 224.6 M191.2 256.0 L192.2 254.6 L195.5 254.6 L197.0 253.0 L195.2 253.6 L191.4 252.1 L189.5 252.5 L186.4 252.4 L184.1 252.1 L182.0 251.5 M165.0 234.5 L168.5 235.5 M176.0 229.0 L178.2 228.8 L180.3 228.0 L183.2 226.9 L186.2 226.0 L189.2 225.0 L191.3 225.7 L193.6 224.1 L195.2 224.7 L197.8 223.9 L200.5 222.7 L203.4 221.8 L205.9 221.9 L209.1 221.4 L211.8 221.7 L214.0 221.9 L217.3 221.0 L220.1 221.3 L223.7 220.9 L225.8 220.2 M236.5 225.0 L238.5 225.5 M260.3 168.6 L262.0 169.2 M259.5 181.0 L261.8 182.6 L263.0 184.0 L266.0 184.5 L268.9 184.6 L272.0 183.9 L274.0 184.0"/><path stroke-width="3.5" d="M250.5 131.0 L249.3 132.6 L247.5 135.0 L245.2 137.1 L245.5 140.0 L245.6 142.8 L244.0 146.0 L244.2 148.1 L244.0 152.0 L244.8 154.2 L246.0 157.0 L246.3 158.3 L248.5 161.0 M225.8 220.2 L226.9 222.6 L228.6 223.4 L230.0 225.2 L230.1 227.9 L231.0 231.0 L232.5 232.0 L232.1 235.4 L232.0 236.3 L233.3 238.7 L234.7 242.0 L235.9 242.9 L239.3 243.3 L240.9 244.6 L242.9 243.8 L244.3 241.2 L242.2 239.9 L241.8 237.0 L242.6 233.6 L245.5 234.4 L246.8 232.8 L248.2 235.1 L251.0 236.1 L252.6 239.5 L254.5 240.5 M260.3 143.6 L262.2 146.2 L261.9 148.5 L262.5 151.0 L263.5 151.3 L265.8 153.9 L267.8 155.4 L270.8 156.7 L273.6 157.8 L274.6 160.5 L276.3 161.4 L276.4 163.7 L279.6 167.3 L279.6 168.9 L277.9 171.7 L277.0 172.3 L274.0 174.5 L272.8 175.3 L270.2 178.0 L267.5 178.5 L264.7 179.7 L263.1 179.1 L260.0 181.0 L259.5 184.5 L262.3 184.0 L263.3 184.5 L266.0 185.5 L268.3 186.3 L271.6 185.8 L274.6 184.5 L271.9 185.6 L271.0 188.0 L270.4 191.6 L271.6 193.2 L275.4 195.0 L278.7 196.3 L279.6 197.5 L280.1 198.9 L279.5 202.0 L275.9 201.8 L274.5 203.0 L274.0 205.4 L271.2 206.8 L274.6 206.7 L277.4 209.9 L277.9 211.7"/></g>
<g id="bordersR" fill="none" stroke="#18823a" stroke-linejoin="round" stroke-linecap="round"><path stroke-width="3.0" d="M971.8 132.0 L975.2 132.6 L977.2 131.9 L980.2 132.4 L983.0 132.8 L986.1 132.5 L988.1 133.1 L991.5 133.1 L993.4 133.2 L995.6 134.0 L998.8 133.4 L1001.9 135.0 L1003.8 134.5 L1006.7 135.8 L1008.1 136.1 L1010.7 136.2 L1014.4 137.1 L1016.5 136.6 L1019.4 137.9 L1022.1 137.4 L1025.9 137.4 L1028.0 135.8 L1030.3 136.6 L1032.2 136.6 L1034.9 136.2 L1037.9 136.2 L1041.1 137.7 L1043.6 138.7 L1047.1 140.0 L1048.5 140.7 L1052.3 141.7 L1053.8 143.6 L1054.0 146.4 L1055.0 149.2 L1056.6 150.7 L1056.0 153.8 L1056.6 156.6 L1054.8 159.6 L1054.0 160.9 L1051.6 161.2 L1048.0 161.7 L1049.8 161.5 L1053.2 162.0 L1055.3 161.8 L1057.4 160.1 L1059.3 161.4 L1062.7 162.6 L1063.9 165.7 L1064.4 168.6 L1063.5 171.9 L1065.1 169.8 L1065.5 167.6 L1067.8 165.1 L1071.2 164.9 L1074.9 166.2 L1077.1 167.1 L1079.8 168.3 L1082.2 169.1 L1084.3 170.0 L1085.7 170.9 L1088.5 172.5 L1091.3 173.7 L1093.7 174.2 L1096.0 171.8 L1098.8 171.6 L1100.6 169.2 L1103.7 168.9 L1105.9 168.2 L1107.5 166.6 L1109.3 168.1 L1111.0 170.0 L1111.4 172.4 L1111.6 176.3 L1111.0 178.5 L1109.4 180.4 L1107.2 182.1 L1104.1 183.6 L1101.4 185.6 L1099.8 187.8 L1096.3 188.7 L1095.5 190.9 L1093.7 194.7 L1096.5 195.2 L1099.1 196.4 L1101.4 196.4 L1103.5 196.2 L1105.9 194.7 L1109.2 194.7 L1112.1 194.7 L1114.4 194.5 L1116.1 195.6 L1118.1 197.6 L1121.4 198.9 L1122.8 199.4 L1126.7 199.6 L1128.3 199.8 L1129.8 197.0 L1130.8 196.0 L1131.7 193.9 L1133.6 191.7 L1134.9 190.8 L1136.9 187.9 L1138.6 186.2 L1142.9 185.6 L1144.0 184.8 L1147.3 184.5 L1150.4 184.8 L1151.6 183.5 L1154.3 182.7 L1157.7 182.7 L1159.8 182.6 L1162.9 181.9 L1162.6 184.3 L1162.9 187.9 L1163.3 184.0 L1163.7 181.7 L1165.1 180.1 L1168.0 176.8 L1169.8 175.1 L1173.1 174.5 L1175.0 172.5 L1177.5 169.7 L1178.8 168.8 L1180.2 165.7 L1182.2 165.5 L1186.6 164.3 L1188.8 164.0 L1190.9 164.6 L1193.9 164.3 L1196.5 165.1 L1199.2 165.7 L1202.2 165.5 L1204.7 164.9 L1207.9 164.9 L1211.1 163.6 L1213.1 163.2 M1218.3 177.0 L1219.2 179.2 L1222.0 179.7 L1223.1 181.7 L1225.5 183.1 L1228.2 185.2 L1229.6 185.3 L1232.7 187.6 L1235.7 186.6 L1238.0 184.9 L1239.8 185.3 L1242.4 184.0 L1244.2 184.3 L1247.1 182.8 L1249.4 183.7 L1249.3 186.4 L1252.5 187.9 L1253.2 189.9 L1255.4 191.0 L1257.8 191.8 L1261.5 193.5 L1263.4 195.4 L1265.0 196.9 L1267.6 199.4 L1266.4 202.3 L1266.3 205.3 L1263.5 204.7 L1262.2 206.0 L1259.4 205.6 L1256.8 206.5 L1255.3 206.0 L1251.3 203.8 L1249.6 203.0 L1249.4 201.0 L1249.1 198.1 L1248.3 196.1 L1247.1 193.5 M1272.3 214.7 L1273.4 217.9 L1272.1 218.7 L1273.8 222.3 L1273.5 224.2 L1274.4 226.2 L1274.9 229.1 L1275.4 230.6 L1275.9 233.6 L1276.4 235.8 L1277.5 239.2 L1278.6 240.7 L1278.3 243.0 L1278.6 244.9 L1278.2 246.9 L1279.5 250.1 L1278.8 252.1 L1278.1 255.6 L1277.8 257.3 L1277.1 259.6 L1275.0 260.3 L1273.6 262.0 L1272.3 264.3 L1270.3 266.7 L1268.6 266.8 L1266.3 269.0 L1266.6 271.9 L1265.9 274.5 L1265.1 276.1 L1267.6 278.2 L1268.9 280.1 L1271.2 280.7 L1274.4 281.7 L1276.4 284.3 L1278.3 285.5 L1280.1 287.3 L1281.9 289.8 L1283.7 291.4 L1285.5 292.6 L1286.9 295.6 L1289.4 297.2 L1290.3 299.6 L1289.2 303.0 L1288.3 304.8 L1286.7 307.4 L1287.1 309.5 L1288.8 311.6 L1290.1 314.1 L1290.3 316.9 L1292.2 318.9 L1293.5 322.0 L1293.9 324.0 L1295.1 326.4 L1295.4 329.4 L1294.8 331.7 L1295.1 335.9 L1295.1 338.1 L1293.8 339.7 L1292.7 343.2 L1291.4 344.7 L1289.1 347.6 L1290.0 349.1 L1290.2 351.9 L1290.3 354.7 L1291.4 357.7 L1292.8 359.4 L1295.1 361.7 L1295.8 363.6 L1294.6 367.2 L1295.1 368.8 L1297.4 370.4 L1299.0 370.9 L1301.7 372.6 L1304.7 373.5 L1304.9 376.7 L1305.7 378.6 L1306.7 380.1 L1309.1 382.3 L1309.5 385.3 L1308.7 388.0 L1308.8 389.2 L1309.7 391.8 L1307.7 394.5 L1308.3 397.1 L1307.5 399.9 L1305.7 401.5 L1304.6 404.1 L1305.0 407.0 L1303.5 408.9 L1303.1 412.0 L1301.8 414.6 L1299.9 416.3 L1298.7 419.5 L1296.0 420.3 L1292.6 421.8 L1290.3 419.8 L1290.2 417.2 L1287.9 416.0 L1287.3 413.0 L1286.4 409.9 L1285.5 407.8 L1284.0 406.5 L1280.9 406.0 L1278.3 405.3 L1275.1 405.9 L1272.9 405.3 L1271.2 406.6 L1271.9 407.9 L1273.6 410.7 L1275.9 412.4 L1274.7 415.1 L1273.5 416.0 M1273.5 416.0 L1270.6 416.9 L1268.5 417.8 L1266.3 418.4 L1264.1 418.5 L1260.6 420.9 L1258.7 420.7 L1257.6 422.1 L1254.3 423.0 L1252.5 423.9 L1249.8 424.3 L1247.4 426.6 L1244.8 427.3 L1242.4 427.8 L1239.9 427.8 L1237.2 429.5 L1233.9 430.1 L1231.6 431.2 L1230.6 434.0 L1228.0 436.0 L1226.0 437.6 L1223.5 438.5 L1220.5 439.2 L1218.3 439.5 L1215.8 441.8 L1214.2 441.8 L1210.5 443.5 L1208.7 445.5 L1207.2 446.0 L1204.2 446.3 L1201.6 447.0 L1199.2 447.8 L1196.5 448.6 L1194.6 449.7 L1192.4 450.3 L1189.6 450.1 L1187.9 451.9 L1185.1 451.3 L1183.0 453.6 L1180.0 453.7 L1179.2 455.8 L1177.3 457.2 L1175.3 459.8 L1174.2 462.2 L1171.4 463.5 L1170.1 466.6 M1170.1 466.6 L1167.9 468.4 L1166.7 471.7 L1168.7 472.6 L1170.2 474.5 L1174.0 476.7 L1175.3 477.7 L1178.1 478.6 L1180.0 480.1 L1182.2 481.9 L1181.9 483.5 L1182.3 487.3 L1183.2 488.8 L1182.4 491.2 L1180.9 492.0 L1178.6 494.6 L1177.6 496.3 L1179.6 499.5 L1181.4 500.7 L1182.2 504.1 L1183.7 506.5 L1184.9 507.7 L1186.1 509.7 L1187.5 512.5 L1189.5 515.5 L1190.1 516.8 L1191.3 519.5 L1193.8 521.4 L1195.6 523.7 L1196.7 524.7 L1198.5 526.6 L1201.1 526.5 L1202.6 526.3 L1205.7 526.6 L1208.0 528.1 L1208.4 531.5 L1210.7 533.7 L1212.9 536.0 L1214.7 537.6 L1217.6 539.2 L1218.4 541.1 L1220.8 543.1 L1222.4 545.4 L1224.1 547.3 L1226.0 548.4 L1229.0 548.9 L1229.3 550.6 L1232.1 552.5 L1235.0 553.9 L1236.4 554.6 L1238.7 556.0 L1241.6 557.3 L1242.3 560.0 L1245.4 562.8 L1246.6 565.1 L1247.6 566.7 M1247.6 566.7 L1248.1 569.5 L1248.8 572.2 L1249.0 574.6 L1248.8 576.2 L1246.4 577.7 L1246.4 579.5 L1244.0 580.8 L1242.4 579.3 L1239.2 578.8 L1236.8 578.5 L1235.1 580.4 L1232.3 581.5 L1231.0 584.6 L1229.6 585.6 L1229.5 587.3 L1229.0 589.6 L1228.1 591.9 L1227.3 595.0 L1223.9 596.5 L1221.9 596.2 L1221.0 598.3 L1217.7 598.5 L1214.9 600.2 L1212.9 600.6 L1209.9 602.0 L1208.0 602.1 L1206.0 604.1 L1204.0 604.1 L1200.6 605.0 L1198.5 606.8 L1196.6 608.4 L1195.7 611.7 L1194.9 613.9 L1195.2 616.6 L1197.0 618.2 L1199.1 620.9 L1199.7 623.3 L1200.9 625.3 L1203.1 626.6 L1205.1 628.6 L1205.7 631.6 L1205.3 634.8 L1203.2 637.3 L1203.3 639.4 L1206.0 639.8 L1209.2 639.9 L1209.6 641.2 L1211.8 644.1 L1210.7 647.8 L1210.1 650.3 L1210.1 652.6 L1209.5 656.0 L1207.4 657.8 L1204.1 656.7 L1201.3 656.1 L1200.0 654.8 L1197.7 653.1 L1197.0 650.9 L1196.7 649.3 L1194.5 647.2 L1194.5 644.1 L1191.4 643.5 L1190.1 644.3 L1187.6 643.2 L1184.9 644.9 L1183.0 644.6 L1180.6 645.9 L1177.7 643.5 L1175.4 642.4 L1172.3 640.8 L1171.1 641.3 L1168.4 639.4 L1166.7 641.3 L1167.1 644.8 L1165.1 647.5 L1162.3 647.0 L1160.0 648.1 L1157.2 647.3 L1154.7 647.5 L1150.9 648.5 L1148.0 648.1 L1145.9 648.4 L1143.7 648.0 L1140.6 649.7 L1137.3 649.2 L1135.8 651.4 L1133.1 652.5 L1132.2 654.3 L1129.2 655.8 L1127.1 655.9 L1125.2 656.9 L1124.4 659.2 L1122.6 660.2 L1120.0 662.0 L1117.4 662.0 L1114.8 661.1 L1112.5 661.3 L1110.0 661.6 L1107.9 662.8 L1105.0 662.5 L1102.7 660.3 L1102.4 658.6 L1100.4 656.0 L1099.3 654.3 L1096.2 653.4 L1095.1 653.9 L1092.3 652.6 L1089.7 652.6 L1088.2 651.8 L1085.4 650.9 L1083.1 651.1 L1079.9 650.7 L1077.6 650.1 L1077.2 653.1 L1077.6 656.1 L1077.8 658.7 L1076.6 661.4 L1076.7 662.8 L1075.3 664.7 L1072.3 666.4 L1071.5 668.0 L1068.7 669.4 L1066.8 670.8 L1064.6 671.3 L1064.4 669.4 L1063.7 666.3 L1061.2 664.8 L1059.4 662.8 L1058.6 661.2 L1056.8 658.9 L1055.9 656.1 L1054.3 655.3 L1052.2 654.6 L1049.0 652.6 L1047.3 650.1 L1045.5 647.5 M1061.1 641.6 L1059.3 642.7 L1056.4 642.2 L1054.1 643.2 L1050.3 644.4 L1048.3 645.4 L1045.5 645.9 L1042.7 648.0 L1040.4 649.2 L1037.6 650.9 L1036.1 651.3 L1033.4 652.6 L1030.6 652.3 L1027.7 651.2 L1025.0 650.0 L1024.0 648.2 L1021.8 647.7 L1019.1 646.1 L1016.8 644.6 L1012.6 644.3 L1010.4 642.6 L1008.1 642.5 L1003.9 642.1 L1001.8 642.6 L999.9 641.4 L998.3 641.1 L994.7 640.4 L993.1 639.3 L991.1 638.6 L990.4 636.5 L987.9 635.0 L985.9 635.1 L983.9 635.3 L981.0 634.1 L977.5 635.6 L975.8 637.6 L976.9 639.7 L977.5 642.6 L980.0 642.4 L982.8 643.8 L984.4 644.3 L981.1 646.3 L979.3 647.8 L976.6 647.5 L974.6 647.7 L972.3 648.6 L968.9 649.0 L966.9 647.2 L963.7 647.8 L961.9 648.0 L958.8 650.8 L956.8 651.2 L954.1 650.3 L950.8 649.9 L948.1 649.5 L944.6 651.0 L941.6 650.5 L939.5 651.2 L937.6 649.9 L935.7 648.5 L932.5 647.8 L932.3 646.2 L930.6 644.0 L929.1 641.0 M929.1 641.0 L929.1 637.5 L929.9 634.5 L929.9 632.4 L930.6 629.6 L930.4 627.3 L931.0 624.6 L932.5 622.2 L932.0 618.6 L933.0 617.1 L933.4 613.7 L933.4 610.6 L935.0 609.4 L935.5 605.8 L936.0 603.5 L937.8 600.1 L938.4 598.0 L938.0 595.1 L939.5 593.3 L940.0 591.3 L940.6 588.3 L942.3 585.4 L942.9 583.0 L944.3 579.7 L944.7 577.4 L947.2 575.2 L948.1 572.8 L949.2 570.9 L950.8 568.4 L952.8 567.1 L953.2 564.8 L955.0 562.6 L956.4 561.3 L958.2 558.1 L960.0 555.8 L960.4 554.9 L961.9 552.4 L963.2 551.5 L965.8 550.7 M965.8 550.7 L962.5 551.0 L959.1 551.6 L956.1 550.8 L953.9 550.2 L950.2 549.1 L949.1 548.5 L945.3 548.5 L942.6 547.8 L939.4 547.3 L936.6 546.7 L933.2 546.2 L930.1 544.0 L928.0 543.3 L924.5 541.2 L922.7 540.0 L920.3 541.2 L917.9 540.3 L915.9 541.6 L912.5 541.9 L909.3 540.7 L907.2 540.0 L904.7 538.5 L902.3 536.9 L900.2 534.8 L897.3 536.2 L895.2 537.2 L891.6 538.2 L889.2 535.7 L889.0 534.8 L886.5 533.1 L884.1 531.6 L883.1 529.0 L881.2 526.3 L880.8 523.7 L878.7 522.5 L877.8 519.5 L874.8 519.1 L872.4 518.1 L870.8 516.9 L870.3 514.7 L869.1 510.9 L870.9 508.7 L870.8 505.8 L872.6 504.2 L874.1 501.9 L874.7 500.4 L876.9 497.4 L875.6 495.2 L874.3 492.2 L871.5 490.1 L868.8 488.6 L867.4 487.2 L865.3 485.3 L863.7 484.3 L862.9 481.4 L860.4 480.3 L859.4 477.4 L859.0 476.6 L857.9 473.5 L858.2 471.2 L859.2 467.0 L860.4 465.0 L862.7 462.5 L863.3 460.4 L865.7 458.2 L867.5 456.1 L870.2 454.1 L872.6 452.3 L871.6 449.3 L869.5 446.4 L869.1 444.6 L866.6 442.4 L865.4 440.6 L863.9 437.8 L861.3 436.2 L858.7 433.8 L857.6 430.7 L853.8 428.6 L852.6 427.0 L852.7 424.8 L853.7 422.1 L853.6 420.1 L853.0 416.9 L851.3 415.1 L849.2 413.3 L849.0 410.2 L848.2 409.3 L846.4 406.6 L848.8 405.0 L848.8 404.0 L851.0 401.4 L853.2 399.0 L855.8 398.0 L857.9 396.3 L858.1 392.9 L857.7 390.8 L858.7 387.8 L859.5 385.0 L860.3 384.0 L861.7 381.3 L862.2 379.2 L862.0 376.2 L861.7 373.0 L862.2 370.8 L860.8 367.9 L860.0 366.9 L858.5 363.5 L857.1 362.3 L854.8 359.9 L852.3 358.6 L851.0 355.5 L851.7 352.9 L851.9 349.8 L851.8 347.8 L854.2 347.3 L858.0 346.9 L860.4 346.1 L862.4 347.1 L867.0 348.2 L869.1 348.6 L872.2 348.9 L873.2 347.2 L876.1 347.0 L878.8 347.0 L881.0 346.1 L884.5 344.4 L886.5 343.5 L888.4 342.7 L890.4 339.7 L891.6 338.4 L891.4 335.6 L889.6 334.7 L889.0 331.6 L891.6 329.6 L892.5 328.4 L895.5 326.9 L896.8 324.8 L899.8 323.5 L901.7 321.6 L903.1 319.5 L905.5 318.0 L905.7 315.2 L906.0 312.4 L904.9 309.4 L902.6 307.2 L899.4 307.2 L897.4 306.2 L894.7 306.5 L893.0 305.5 L890.6 303.7 L889.6 302.7 L887.0 301.3 L886.6 299.0 L887.0 295.3 L888.8 293.9 L891.9 293.6 L893.0 292.0 L895.9 291.3 L898.5 291.8 L900.9 291.2 L903.3 291.8 L905.2 291.1 L905.0 288.4 L905.2 285.1 L906.3 283.2 L907.1 279.9 L906.9 276.6 L907.7 274.5 L910.1 271.3 L911.2 269.8 L911.8 267.9 L913.3 265.5 L912.4 262.3 L913.8 259.6 L914.6 257.2 L913.8 253.5 L915.1 252.4 L914.7 248.8 L914.6 246.5 M905.2 241.9 L904.9 238.9 L904.0 237.0 L903.6 233.5 L904.2 230.7 L905.9 227.0 L906.1 225.2 L906.9 222.1 L907.3 218.9 L909.5 216.1 M983.0 201.6 L982.0 203.8 L980.9 205.7 L979.6 208.5 L979.9 211.9 L979.3 213.6 L978.7 217.0 L979.3 219.3 L979.4 223.0 L980.4 224.7 L984.0 224.3 L985.7 225.5 L985.9 227.8 L984.7 229.8 L982.4 230.2 L980.4 231.5 L980.5 234.0 L980.2 236.9 L979.6 239.2 L979.6 241.7 M983.0 201.6 L985.5 202.2 L988.2 202.6 L990.7 203.9 L991.7 205.5 L993.4 206.8 L995.1 207.1 L998.3 207.9 L1000.4 207.6 L1001.9 206.4 L1004.2 206.5 L1007.2 205.1 L1009.9 203.7 L1012.7 204.8 L1014.1 203.4 M1003.8 201.6 L1006.3 202.4 L1009.3 201.9 L1010.6 202.7 L1014.1 203.4 L1015.9 204.8 L1018.9 205.3 L1020.8 206.2 L1022.9 206.8 L1023.9 209.0 L1025.7 212.1 L1028.0 213.6 L1028.5 216.3 L1029.9 218.2 L1031.6 219.8 L1033.3 222.1 L1036.2 222.6 L1037.0 225.7 L1040.1 226.3 L1042.8 225.6 L1045.4 226.3 M1045.4 226.3 L1047.2 225.2 L1050.3 224.1 L1052.3 222.1 L1054.0 220.2 L1056.2 218.7 L1059.2 217.8 L1062.2 215.9 L1064.4 215.3 L1065.8 217.4 L1067.0 220.5 L1066.3 222.6 L1067.1 225.2 L1066.2 227.2 L1066.4 228.7 L1067.7 231.8 L1069.4 233.0 L1072.1 235.1 L1074.3 236.5 L1075.8 237.6 L1079.4 238.6 L1080.8 239.3 L1084.0 239.7 L1086.7 239.8 M1045.4 226.3 L1045.5 229.3 L1047.0 231.5 L1049.9 234.0 L1052.3 234.9 L1054.9 234.0 L1058.3 234.0 L1061.5 235.3 L1063.3 236.4 L1066.4 237.1 L1068.5 237.8 L1070.4 236.8 L1074.2 237.2 L1075.8 237.6 M1093.7 194.7 L1096.7 195.3 L1098.5 197.0 L1101.1 198.3 L1102.3 200.6 L1101.0 202.1 L1099.0 203.8 L1096.3 204.1 L1095.2 206.6 L1095.5 209.3 L1094.5 212.6 L1096.1 213.2 L1099.2 215.5 L1100.6 216.0 L1102.4 218.0 L1103.2 221.1 L1103.1 224.1 L1101.4 227.0 L1098.6 228.4 L1096.7 229.1 L1094.5 231.3 L1092.6 232.4 L1090.6 234.9 L1088.5 235.5 L1087.9 237.5 L1086.7 239.8 M1086.7 239.8 L1088.3 241.1 L1090.3 242.4 L1092.4 243.9 L1094.5 245.9 L1096.5 247.6 L1099.3 249.1 L1100.5 250.0 L1103.3 251.0 L1106.2 252.5 L1107.9 254.1 L1111.3 256.1 L1113.2 257.1 L1116.5 257.6 L1119.3 258.7 L1120.0 259.2 L1123.3 259.8 L1125.3 261.0 L1127.6 261.8 L1130.6 263.8 L1133.9 264.4 M1125.3 261.0 L1127.0 259.9 L1129.6 257.2 L1130.9 256.2 L1132.5 253.4 L1133.9 252.4 L1135.3 251.1 L1139.0 249.7 L1140.8 249.1 L1143.1 248.4 L1146.0 249.3 L1147.7 248.2 L1149.8 248.0 L1151.5 246.5 L1154.7 244.8 L1157.5 243.1 L1159.4 242.8 L1162.0 241.1 L1163.3 240.6 L1165.7 241.8 L1168.2 241.3 L1170.2 242.2 L1172.3 244.1 L1175.9 245.4 L1178.8 245.6 L1180.8 247.1 L1184.7 248.1 L1185.8 248.0 L1189.3 249.1 L1191.4 250.4 L1194.8 251.6 L1198.0 251.6 L1200.6 252.6 L1204.4 252.1 L1206.6 253.0 L1209.0 252.5 L1211.2 250.1 L1213.5 249.1 L1215.9 248.8 L1218.5 247.6 L1221.9 246.6 L1224.8 245.5 L1226.8 244.5 L1230.3 243.0 L1233.1 240.3 L1234.0 239.0 L1236.3 235.9 L1238.6 234.1 L1239.6 233.5 L1242.3 231.5 L1244.7 230.1 L1247.1 227.7 L1248.3 229.5 L1250.7 230.5 L1251.9 232.4 L1253.5 234.5 L1257.5 233.9 L1259.1 235.9 L1261.6 236.0 L1263.7 235.8 L1267.1 235.3 L1268.7 234.8 L1269.7 237.2 L1271.2 240.7 L1269.1 242.0 L1267.2 244.1 L1266.3 246.6 L1269.4 247.0 L1271.7 248.1 L1273.5 247.8 L1276.8 246.3 L1278.9 246.5 M1133.9 264.4 L1131.6 266.9 L1130.1 268.4 L1128.7 271.2 L1125.8 272.3 L1122.9 273.4 L1120.0 274.6 L1116.7 273.3 L1114.6 272.6 L1111.4 272.0 L1108.8 273.4 L1106.3 274.5 L1102.8 274.6 L1099.7 274.7 L1098.0 275.9 L1094.9 276.3 L1094.1 278.9 L1095.1 281.4 L1094.1 283.1 L1094.7 285.0 L1095.5 288.5 L1097.5 289.9 L1099.3 292.0 L1102.2 293.5 L1104.5 295.0 L1104.8 297.9 L1105.2 299.2 L1105.3 301.9 L1105.5 304.1 L1107.8 305.7 L1107.9 308.7 L1109.1 311.1 L1109.1 312.6 L1110.6 315.4 L1110.6 317.6 L1109.8 320.0 L1109.6 322.3 L1107.7 324.9 L1107.5 326.9 L1106.1 329.1 L1103.6 330.8 L1102.2 331.5 L1099.3 332.5 L1095.6 332.4 L1092.9 332.8 L1090.6 334.1 L1087.9 335.5 L1084.6 336.8 L1084.9 340.0 L1086.5 342.4 L1087.1 344.4 L1086.9 347.0 L1085.5 349.8 L1084.6 351.2 L1085.2 354.3 L1087.1 356.7 L1089.0 358.9 L1090.0 360.7 L1090.6 363.6 M1133.9 264.4 L1136.5 265.4 L1138.5 265.5 L1140.8 266.1 L1142.9 268.7 L1145.0 268.9 L1147.7 271.2 L1149.6 271.9 L1152.0 273.0 L1154.7 274.6 L1156.8 274.6 L1160.1 275.3 L1163.3 275.5 L1165.3 276.0 L1168.4 278.0 L1167.9 280.9 L1168.2 284.1 L1168.4 286.5 L1167.9 288.6 L1165.4 291.4 L1165.1 293.3 L1165.1 296.1 L1164.1 299.2 L1167.0 299.2 L1170.1 300.5 L1171.9 300.2 L1171.9 303.8 L1170.3 305.9 L1170.2 308.7 L1170.0 312.0 L1168.8 313.7 L1168.4 317.1 L1168.7 318.7 L1168.8 320.8 L1168.4 323.9 L1170.1 326.5 L1171.9 329.1 L1173.5 330.7 L1176.5 332.2 L1178.8 334.1 L1182.2 335.7 L1184.8 335.4 L1185.8 336.5 L1189.3 337.6 L1191.2 339.2 L1194.1 339.5 L1196.7 341.3 L1199.7 342.7 L1202.7 343.5 L1204.5 344.7 L1206.6 344.7 L1210.1 346.1 L1213.3 346.8 L1215.1 345.9 L1218.7 347.0 L1217.9 350.3 L1217.0 353.0 L1217.2 356.8 L1215.3 359.7 L1215.2 362.8 M1215.2 362.8 L1213.7 362.5 L1211.1 362.4 L1208.3 361.0 L1205.0 361.3 L1203.3 361.7 L1199.7 361.0 L1197.2 361.1 L1194.3 363.2 L1191.2 362.6 L1189.3 363.6 L1187.5 364.1 L1183.5 364.6 L1182.2 365.2 L1178.8 366.2 L1175.8 366.7 L1173.6 366.7 L1170.2 367.0 L1167.3 368.9 L1165.9 370.4 L1164.7 372.5 L1164.8 376.5 L1165.1 378.9 L1164.3 382.1 L1163.8 383.9 L1164.1 387.4 L1164.1 390.6 L1166.6 392.6 L1166.8 395.9 L1167.4 397.3 L1169.3 400.2 L1170.2 402.8 M1215.2 362.8 L1215.3 365.9 L1216.8 368.3 L1217.2 371.2 L1216.7 374.5 L1217.7 376.7 L1217.2 379.4 L1219.6 379.5 L1221.9 380.6 L1224.0 379.8 L1228.0 379.4 L1230.5 379.4 L1233.3 380.5 L1235.2 381.8 L1237.1 380.9 L1240.9 382.2 L1243.0 382.0 L1244.7 381.8 L1246.6 381.2 L1250.1 380.5 L1253.7 380.6 L1255.5 380.6 L1256.9 379.2 L1258.8 377.4 L1261.5 374.7 L1263.8 373.2 L1266.0 371.5 L1268.7 369.9 L1270.5 369.1 L1274.2 369.5 L1275.9 369.9 L1278.8 368.8 L1281.6 369.5 L1283.6 368.7 L1285.5 367.6 L1288.1 368.3 L1289.6 368.2 L1293.3 368.0 L1295.1 368.8 M1090.6 363.6 L1094.4 362.9 L1095.5 364.5 L1099.3 363.6 L1100.1 364.6 L1102.4 366.7 L1103.6 368.7 L1104.6 371.1 L1105.0 374.1 L1104.5 377.2 L1107.6 378.6 L1110.6 379.1 L1113.1 378.9 L1116.4 378.4 L1119.6 379.6 L1121.8 379.8 L1123.1 380.6 L1125.8 382.7 L1126.9 384.0 L1128.6 387.1 L1128.7 389.2 L1127.4 391.0 L1124.3 392.6 L1125.6 395.1 L1125.6 397.9 L1126.9 399.4 L1128.9 400.5 L1132.4 400.8 L1133.9 401.1 L1135.5 401.7 L1138.8 400.5 L1140.8 401.1 L1141.7 403.3 L1144.3 405.3 L1146.3 406.7 L1150.1 406.5 L1152.9 407.1 L1155.3 409.0 L1158.1 410.4 L1161.7 410.6 L1163.7 411.7 L1166.8 412.1 L1168.1 410.6 L1170.2 408.7 L1170.3 405.6 L1170.2 402.8 M1170.2 402.8 L1173.9 403.3 L1176.7 401.4 L1178.8 401.9 L1181.0 403.2 L1182.9 404.1 L1184.9 406.1 L1185.6 408.2 L1187.0 410.3 L1188.0 411.8 L1190.1 414.6 L1188.5 415.6 L1186.1 417.4 L1184.1 418.1 L1180.9 418.4 L1178.8 420.5 L1175.4 421.5 L1174.0 423.2 L1172.8 424.1 L1170.2 425.8 L1171.6 428.5 L1171.9 431.7 L1169.5 433.7 L1166.8 435.1 L1164.1 435.8 L1162.1 438.4 L1159.8 439.4 L1157.7 440.7 L1155.5 441.7 L1152.9 443.7 L1151.5 445.9 L1151.2 448.7 M1151.2 448.7 L1153.3 451.1 L1154.1 453.1 L1156.4 453.9 L1157.6 455.9 L1159.1 457.7 L1161.6 458.9 L1162.7 461.6 L1165.5 463.9 L1166.8 465.7 L1170.1 466.6 M1047.3 380.7 L1050.0 380.6 L1053.7 378.4 L1056.0 378.0 L1058.8 377.2 L1059.5 376.7 L1062.0 374.5 L1064.6 373.8 L1066.8 372.8 L1068.6 371.9 L1071.6 370.4 L1073.9 369.1 L1075.6 367.8 L1076.7 366.2 L1080.2 365.9 L1082.2 366.7 L1085.4 367.0 L1087.3 366.2 L1090.6 363.6 M905.2 320.0 L908.2 318.6 L909.8 318.5 L912.1 318.0 L915.5 316.6 L918.6 314.7 L921.1 314.5 L923.6 314.3 L925.9 312.4 L929.1 310.2 L931.2 308.9 L932.8 306.4 L935.4 303.8 L936.3 303.0 L938.9 304.6 L939.8 307.2 L941.4 308.6 L945.0 310.4 L946.7 310.7 L948.6 312.9 L951.0 314.0 L950.4 317.3 L951.2 319.0 L951.2 320.6 L952.1 323.9 L949.9 327.1 L949.6 329.9 L951.8 332.2 L953.9 333.3 L957.4 332.3 L960.3 331.1 L962.5 330.8 L966.1 329.5 L969.2 328.8 L971.3 328.2 L973.4 327.1 L975.0 325.2 L978.2 324.8 L978.1 322.9 L977.0 319.9 L977.6 317.8 L976.3 315.9 L976.4 312.3 L974.4 310.7 L972.3 307.8 L970.0 306.4 L973.6 305.9 L976.1 303.8 L978.8 302.5 L979.8 300.2 L983.0 299.5 L984.8 299.4 L987.0 301.5 L990.0 301.3 L990.6 305.0 L991.7 307.2 L994.5 308.3 L997.1 308.7 L998.6 309.0 L1000.6 307.8 L1003.0 305.8 L1005.5 305.5 L1006.4 304.0 L1009.0 302.2 L1010.3 304.7 L1011.6 305.5 L1010.9 308.4 L1009.8 310.3 L1009.0 312.4 L1007.8 314.1 L1005.5 317.5 L1004.7 319.8 L1005.3 322.2 L1005.8 324.8 L1007.3 325.9 L1009.7 328.4 L1012.8 329.9 L1013.1 331.3 L1015.4 334.3 L1016.2 336.8 L1017.1 339.8 L1019.7 342.1 L1021.4 343.5 L1023.7 344.8 L1025.3 345.1 L1027.5 347.0 L1028.4 349.1 L1027.1 350.9 L1027.5 353.8 L1026.8 356.9 L1025.6 358.8 L1024.9 360.5 M1024.9 360.5 L1024.0 363.2 L1023.4 364.6 L1021.4 367.4 L1018.9 370.0 L1017.6 371.1 L1016.2 373.3 L1014.2 374.0 L1011.1 375.9 L1009.2 374.2 L1005.8 372.5 L1002.4 374.1 L1000.7 374.2 L999.1 375.5 L997.2 378.4 L995.5 379.8 L993.0 380.4 L990.3 381.0 L988.6 381.8 L985.0 384.4 L985.5 387.2 L984.2 389.5 L986.8 390.1 L990.3 390.4 L990.0 393.6 L990.3 396.3 L988.0 398.1 L985.0 399.7 L982.6 402.1 L981.7 404.8 L980.4 407.8 L979.9 409.9 L978.1 412.1 L974.7 413.3 L972.1 414.0 L969.5 415.9 L967.3 416.7 L964.3 418.5 L963.5 420.4 L960.9 423.5 L961.4 424.9 L960.8 427.6 L960.0 430.1 M1024.9 360.5 L1026.5 360.4 L1029.7 361.1 L1031.8 362.3 L1033.4 362.8 L1036.3 362.9 L1038.7 364.0 L1038.5 366.9 L1038.0 367.9 L1038.7 370.8 L1037.3 372.6 L1036.8 376.2 L1037.0 377.6 L1034.9 380.2 L1033.6 381.0 L1034.6 383.4 L1037.0 384.4 L1039.6 385.6 L1042.2 386.1 L1044.2 383.9 L1045.1 382.8 L1047.3 380.7 M1047.3 380.7 L1049.2 381.8 L1051.5 383.1 L1052.6 384.9 L1054.9 386.0 L1057.0 388.6 L1059.5 389.2 L1061.0 390.7 L1063.6 392.3 L1066.4 394.2 L1067.0 396.8 L1066.0 399.8 L1065.5 402.8 L1063.9 404.4 L1060.9 406.1 L1059.5 407.9 L1057.3 409.8 L1055.5 410.1 L1053.4 412.1 L1054.6 414.7 L1055.2 418.1 L1054.1 419.7 L1052.8 422.9 L1051.9 424.9 L1050.8 426.6 L1051.0 429.0 L1050.5 431.0 L1049.9 433.5 L1052.7 434.0 L1054.4 434.3 L1057.7 433.5 L1058.3 435.7 L1059.4 439.3 M1059.4 439.3 L1057.7 441.2 L1055.0 444.2 L1054.1 446.2 L1050.7 446.9 L1048.2 448.7 L1045.5 449.5 L1044.7 451.8 L1043.0 455.1 L1040.5 456.5 L1037.7 457.4 L1035.2 460.5 L1033.6 461.6 L1032.0 464.9 L1030.1 466.7 L1028.4 468.7 L1024.9 470.1 L1022.1 468.7 L1018.2 469.5 L1016.2 468.5 L1013.6 469.8 L1010.6 470.5 L1007.6 471.0 L1006.1 473.8 L1004.1 475.2 L1003.9 478.1 L1004.9 481.5 L1005.8 483.7 L1007.1 486.1 L1006.2 488.9 L1007.6 492.2 L1008.4 495.0 L1009.7 497.3 L1011.1 499.1 L1010.4 501.4 L1009.9 503.9 L1010.1 505.9 M1059.4 439.3 L1061.3 439.8 L1064.9 442.0 L1068.0 442.8 L1069.5 443.8 L1071.8 446.6 L1073.8 448.3 L1076.6 449.5 L1079.3 450.6 L1081.4 452.9 L1083.6 454.7 L1084.6 457.9 L1085.1 458.3 L1087.0 461.5 L1090.5 462.2 L1092.3 463.2 L1094.3 461.2 L1097.4 459.8 L1094.6 458.9 L1092.3 456.4 L1092.6 453.8 L1094.0 452.2 L1097.1 452.0 L1100.6 452.2 L1102.7 451.3 L1105.3 451.3 L1109.0 453.3 L1111.3 453.0 L1112.1 455.4 L1115.4 457.2 L1116.4 458.9 L1117.7 457.4 L1119.9 454.7 L1120.7 451.3 L1120.8 448.5 L1120.9 446.2 L1122.2 443.8 L1125.2 442.0 L1126.6 443.0 L1128.6 444.5 L1130.6 447.6 L1132.1 449.5 L1135.8 450.7 L1138.7 450.7 L1140.7 450.4 L1143.0 449.4 L1146.2 449.7 L1148.9 448.4 L1151.2 448.7 M960.0 430.1 L957.0 428.0 L955.6 427.0 L954.1 425.4 L953.3 422.8 L952.1 420.1 L949.2 418.5 L947.8 416.8 L947.2 414.7 L945.3 412.5 L944.3 414.5 L941.8 415.1 L940.7 416.7 L940.1 420.1 L938.8 420.9 L935.7 423.4 L934.9 424.5 L932.6 426.2 L930.0 426.1 L926.2 427.8 L923.2 428.2 L922.5 429.2 L919.4 431.0 L916.1 431.5 L914.1 433.8 L910.7 433.6 L909.0 435.2 L906.5 435.4 L904.2 437.7 L901.8 438.3 L900.2 438.6 L898.4 440.4 L895.8 442.5 L893.3 443.7 L892.3 445.2 L890.7 447.2 L889.8 449.6 L886.8 451.1 L884.0 450.0 L881.2 451.4 L878.3 452.2 L875.4 452.3 L872.6 452.3 M960.0 430.1 L960.6 433.3 L960.9 436.1 L959.7 437.9 L957.7 441.3 L955.6 442.9 L955.8 444.6 L954.8 447.6 L953.9 449.6 L955.6 452.8 L957.4 454.1 L959.1 456.5 L958.2 458.4 L955.3 459.5 L953.9 461.6 L951.6 462.5 L949.5 465.4 L947.0 466.7 L945.4 469.6 L944.9 471.4 L942.7 473.5 L944.5 474.8 L944.7 478.4 L947.0 479.5 L949.5 478.1 L953.5 478.2 L955.6 476.9 L957.8 475.7 L960.9 474.8 L964.3 474.3 L965.1 475.8 L967.4 477.0 L969.5 478.7 L969.8 480.8 L970.4 485.0 L972.1 487.2 L973.7 490.1 L973.7 492.2 L975.6 495.7 L974.6 497.6 L974.2 499.8 L974.7 502.4 L975.3 504.2 L977.3 506.9 L978.2 509.3 M978.2 509.3 L978.8 512.3 L980.0 515.7 L979.9 517.8 L980.3 520.4 L980.1 523.3 L979.0 526.3 L977.5 527.7 L976.8 529.9 L975.3 532.9 L974.7 534.8 L974.6 537.5 L972.7 538.5 L972.9 541.6 L971.3 544.2 L971.3 547.2 L969.5 549.3 L965.8 550.7 M978.2 509.3 L980.8 508.9 L983.3 507.6 L986.0 507.4 L987.7 505.9 L988.6 509.2 L990.3 510.9 L993.0 513.1 L995.4 514.4 L997.2 516.9 L998.1 517.8 L1000.7 516.3 L1004.1 515.2 L1006.2 513.9 L1008.0 512.1 L1009.3 510.9 L1010.6 507.5 L1010.1 505.9 M1010.1 505.9 L1012.8 505.9 L1016.2 504.2 L1019.4 504.1 L1021.4 503.2 L1023.2 501.6 L1023.1 498.9 L1024.9 495.7 L1027.0 494.4 L1030.1 492.2 L1032.2 493.2 L1034.7 494.0 L1037.0 494.7 L1039.8 497.0 L1041.2 498.1 L1043.7 499.0 L1046.2 501.1 L1046.5 503.5 L1049.0 505.8 L1050.8 507.9 L1051.0 510.4 L1052.5 512.8 L1054.1 514.3 L1055.8 513.9 L1058.6 514.0 L1061.1 512.5 L1061.0 516.1 L1062.1 518.0 L1062.9 521.0 L1062.5 523.6 L1064.1 527.1 L1064.3 528.9 L1063.7 531.3 L1064.2 534.2 L1065.7 537.1 L1067.2 539.0 L1069.0 540.9 L1069.2 543.9 L1070.5 545.1 L1072.1 546.5 L1074.0 548.8 L1076.2 550.7 L1077.5 553.3 L1077.3 555.5 L1076.9 558.5 L1077.9 560.9 L1078.4 562.6 L1078.4 565.3 L1078.6 568.1 L1078.4 570.8 L1075.6 571.4 L1074.6 573.5 L1071.1 575.4 L1069.8 576.0 L1068.2 577.8 L1066.5 580.1 L1066.3 582.7 L1063.5 584.6 L1060.1 585.0 L1057.6 586.2 L1056.0 589.4 L1055.5 591.6 L1055.1 594.7 L1055.7 597.4 L1058.1 598.3 L1058.2 600.3 L1059.4 603.2 L1060.2 606.3 L1059.4 608.3 L1060.1 610.2 L1060.9 612.5 L1061.1 615.1 L1061.4 617.5 L1061.1 620.3 L1061.0 622.6 L1060.9 625.3 L1061.1 628.8 L1061.3 631.2 L1061.0 634.6 L1060.5 636.5 L1061.3 639.3 L1061.1 641.6 M876.9 503.3 L879.6 504.1 L881.9 507.0 L884.7 507.8 L886.5 509.3 L889.6 508.2 L892.3 506.8 L895.1 506.7 L898.0 506.4 L899.9 505.6 L903.3 505.3 L905.5 505.0 L909.2 506.4 L911.9 505.4 L914.1 506.7 L914.5 508.3 L916.2 511.0 L917.6 512.6 L918.8 515.1 L919.0 517.4 L919.4 519.5 L919.9 521.3 L921.7 522.7 L923.7 524.6 L920.6 527.0 L919.4 528.8 L919.2 531.0 L917.6 534.8 L919.5 535.7 L920.8 537.6 L922.7 540.0 M1106.9 162.3 L1108.7 159.0 L1110.5 158.3 L1113.6 157.9 L1116.5 158.8 L1118.5 159.0 L1120.3 162.3 L1118.5 165.7 L1116.4 166.1 L1113.6 166.8 L1111.7 166.3 L1108.7 165.7 L1106.9 162.3Z M978.7 249.4 L981.4 249.9 L984.7 252.4 L986.5 252.7 L988.7 253.6 L990.5 253.4 L993.4 254.4 L995.3 255.1 L997.5 255.9 L1000.4 255.4 L1001.7 256.1 L1004.7 257.9 L1003.5 260.9 L1003.8 262.9 L1001.2 263.2 L998.8 263.8 L996.9 263.8 L994.1 262.5 L991.7 262.1 L989.8 259.6 L988.2 257.9 L985.8 257.1 L985.1 255.3 L983.0 253.6 L981.5 251.3 L978.7 249.4Z M1213.6 307.4 L1213.2 304.8 L1213.5 302.1 L1214.6 298.7 L1214.7 296.0 L1217.3 294.4 L1218.7 292.7 L1221.9 291.0 L1224.5 290.8 L1227.4 291.0 L1228.9 289.9 L1231.6 290.2 L1232.5 292.8 L1235.1 294.4 L1236.3 296.1 L1238.3 297.7 L1240.0 299.3 L1242.0 301.0 L1244.7 302.4 L1244.6 305.5 L1243.4 307.2 L1243.5 310.7 L1241.4 312.2 L1239.9 313.0 L1237.5 312.3 L1235.0 310.5 L1233.5 308.9 L1230.3 308.3 L1227.0 308.7 L1225.0 308.6 L1221.9 308.9 L1219.2 308.3 L1216.7 308.6 L1213.6 307.4Z"/><path stroke-width="4.2" d="M976.1 142.8 L977.7 142.4 L981.3 142.5 L983.3 143.3 M1213.1 163.2 L1212.3 161.7 L1211.1 158.6 L1210.6 155.8 L1211.1 153.4 L1214.0 152.6 L1215.9 151.5 L1218.3 149.9 L1220.6 151.1 L1223.3 150.4 L1225.7 151.6 L1228.0 152.2 L1230.4 151.3 L1233.1 150.9 L1235.2 151.1 L1236.4 152.2 L1237.9 153.6 L1239.9 155.7 L1240.0 158.4 L1238.3 160.6 L1238.8 162.8 L1239.6 165.1 L1241.7 166.9 L1243.5 168.8 L1242.2 171.1 L1239.9 172.3 L1237.8 171.1 L1234.4 170.8 L1232.7 169.9 L1231.2 168.2 L1230.3 164.6 L1228.0 162.8 L1226.0 160.9 L1224.4 158.2 L1223.4 161.4 L1221.8 162.7 L1221.9 165.2 L1223.4 168.4 L1223.7 169.5 L1224.8 172.0 L1225.5 174.6 L1223.5 175.1 L1220.1 176.4 L1218.3 177.0 L1217.2 174.6 L1215.3 172.4 L1213.6 169.9 L1213.2 166.3 L1212.5 165.1 L1212.3 161.7 M1215.6 154.4 L1219.2 154.2 L1221.8 153.4 L1224.0 153.5 L1226.9 155.6 L1229.0 155.4 L1232.0 155.8 L1235.2 154.9 L1235.3 157.2 L1237.2 159.5 L1235.1 162.0 L1234.1 164.5 L1232.3 166.7 L1230.0 167.6 L1232.6 169.8 L1235.2 170.6 L1237.4 169.9 L1240.3 170.6 M1215.6 159.5 L1215.9 162.1 L1217.9 163.0 L1218.7 165.5 L1220.3 168.7 L1220.8 171.6 L1222.4 173.8 L1222.8 175.7 M1177.6 168.6 L1180.0 166.3 L1182.7 165.5 L1185.9 164.4 L1188.8 164.5 L1191.4 164.6 L1194.4 164.6 L1197.5 164.8 L1199.2 165.9 L1201.3 165.9 L1205.9 165.9 L1207.9 164.9 L1211.1 163.4 L1213.1 163.2 M1247.1 185.8 L1249.0 188.0 L1251.2 189.5 L1253.2 191.3 L1256.0 191.8 L1258.5 193.4 L1259.8 194.4 L1261.0 196.5 L1263.1 198.6 L1265.5 199.4 L1265.1 201.4 L1264.0 204.5 L1262.4 204.5 L1260.0 204.3 L1256.8 205.5 L1254.3 204.5 L1252.2 202.8 L1250.6 201.9 L1249.2 199.8 L1249.9 196.9 L1248.5 194.9 L1249.9 197.8 L1251.0 201.5 L1251.6 203.5 L1253.0 205.9 L1254.3 208.8 L1256.7 210.2 L1260.0 211.6 L1261.1 210.9 L1264.7 212.1 L1266.3 213.6 L1269.6 213.5 L1272.3 214.7 M914.6 246.5 L915.7 245.1 L919.0 245.1 L920.6 243.4 L918.7 244.0 L914.9 242.5 L912.9 242.9 L909.7 242.8 L907.3 242.5 L905.2 241.9 M887.7 224.7 L891.3 225.7 M899.0 219.1 L901.2 218.9 L903.4 218.2 L906.4 217.0 L909.5 216.1 L912.5 215.1 L914.7 215.8 L917.1 214.2 L918.7 214.8 L921.4 214.0 L924.2 212.8 L927.2 211.8 L929.7 212.0 L933.0 211.4 L935.8 211.7 L938.1 212.0 L941.5 211.1 L944.3 211.4 L948.0 210.9 L950.2 210.2 M961.2 215.1 L963.2 215.6 M985.7 158.1 L987.4 158.7 M984.8 170.6 L987.2 172.2 L988.4 173.7 L991.5 174.1 L994.5 174.2 L997.6 173.5 L999.7 173.6"/><path stroke-width="3.5" d="M975.6 120.0 L974.3 121.6 L972.5 124.1 L970.1 126.2 L970.4 129.1 L970.5 132.0 L968.9 135.2 L969.1 137.3 L968.9 141.3 L969.7 143.4 L971.0 146.3 L971.3 147.7 L973.5 150.4 M950.2 210.2 L951.4 212.7 L953.1 213.5 L954.5 215.3 L954.7 218.0 L955.6 221.1 L957.1 222.2 L956.7 225.7 L956.5 226.6 L957.9 229.0 L959.4 232.3 L960.6 233.2 L964.1 233.6 L965.7 234.9 L967.8 234.1 L969.2 231.5 L967.1 230.2 L966.6 227.2 L967.5 223.8 L970.5 224.6 L971.8 223.0 L973.2 225.3 L976.1 226.3 L977.8 229.7 L979.7 230.8 M985.7 132.8 L987.7 135.4 L987.3 137.7 L987.9 140.3 L988.9 140.5 L991.3 143.2 L993.4 144.7 L996.4 146.0 L999.3 147.1 L1000.4 149.9 L1002.1 150.7 L1002.2 153.1 L1005.5 156.7 L1005.5 158.4 L1003.7 161.2 L1002.9 161.8 L999.7 164.0 L998.5 164.8 L995.8 167.6 L993.1 168.1 L990.2 169.3 L988.5 168.7 L985.4 170.6 L984.8 174.1 L987.8 173.7 L988.7 174.1 L991.5 175.1 L993.9 176.0 L997.2 175.4 L1000.4 174.1 L997.5 175.2 L996.7 177.7 L996.0 181.3 L997.3 183.0 L1001.2 184.8 L1004.5 186.1 L1005.5 187.3 L1006.0 188.7 L1005.4 191.8 L1001.7 191.6 L1000.3 192.8 L999.8 195.3 L996.9 196.7 L1000.4 196.6 L1003.2 199.8 L1003.8 201.6"/></g>
<g id="axL">
<path d="M76.5 90.8V709.8H610.2" fill="none" stroke="#808080" stroke-width="1.6"/>
<path d="M76.5 699.1h-6.5" stroke="#808080" stroke-width="1.4"/>
<text transform="translate(63.2 705.7) scale(1.040 1)" text-anchor="end" class="tk">47</text>
<path d="M76.5 628.9h-6.5" stroke="#808080" stroke-width="1.4"/>
<text transform="translate(63.2 635.5) scale(1.040 1)" text-anchor="end" class="tk">48</text>
<path d="M76.5 558.7h-6.5" stroke="#808080" stroke-width="1.4"/>
<text transform="translate(63.2 565.3) scale(1.040 1)" text-anchor="end" class="tk">49</text>
<path d="M76.5 488.5h-6.5" stroke="#808080" stroke-width="1.4"/>
<text transform="translate(63.2 495.1) scale(1.040 1)" text-anchor="end" class="tk">50</text>
<path d="M76.5 418.3h-6.5" stroke="#808080" stroke-width="1.4"/>
<text transform="translate(63.2 424.9) scale(1.040 1)" text-anchor="end" class="tk">51</text>
<path d="M76.5 348.1h-6.5" stroke="#808080" stroke-width="1.4"/>
<text transform="translate(63.2 354.7) scale(1.040 1)" text-anchor="end" class="tk">52</text>
<path d="M76.5 277.9h-6.5" stroke="#808080" stroke-width="1.4"/>
<text transform="translate(63.2 284.5) scale(1.040 1)" text-anchor="end" class="tk">53</text>
<path d="M76.5 207.7h-6.5" stroke="#808080" stroke-width="1.4"/>
<text transform="translate(63.2 214.3) scale(1.040 1)" text-anchor="end" class="tk">54</text>
<path d="M76.5 137.5h-6.5" stroke="#808080" stroke-width="1.4"/>
<text transform="translate(63.2 144.1) scale(1.040 1)" text-anchor="end" class="tk">55</text>
<path d="M133.4 709.8v6.5" stroke="#808080" stroke-width="1.4"/>
<text transform="translate(133.4 736.2) scale(1.040 1)" text-anchor="middle" class="tk">6</text>
<path d="M230.3 709.8v6.5" stroke="#808080" stroke-width="1.4"/>
<text transform="translate(230.3 736.2) scale(1.040 1)" text-anchor="middle" class="tk">8</text>
<path d="M327.3 709.8v6.5" stroke="#808080" stroke-width="1.4"/>
<text transform="translate(327.3 736.2) scale(1.040 1)" text-anchor="middle" class="tk">10</text>
<path d="M424.2 709.8v6.5" stroke="#808080" stroke-width="1.4"/>
<text transform="translate(424.2 736.2) scale(1.040 1)" text-anchor="middle" class="tk">12</text>
<path d="M521.2 709.8v6.5" stroke="#808080" stroke-width="1.4"/>
<text transform="translate(521.2 736.2) scale(1.040 1)" text-anchor="middle" class="tk">14</text>
</g>
<g id="axR">
<path d="M796.8 81.0V705.8H1343.0" fill="none" stroke="#808080" stroke-width="1.6"/>
<path d="M796.8 694.6h-6.5" stroke="#808080" stroke-width="1.4"/>
<text transform="translate(783.5 701.2) scale(1.040 1)" text-anchor="end" class="tk">47</text>
<path d="M796.8 623.6h-6.5" stroke="#808080" stroke-width="1.4"/>
<text transform="translate(783.5 630.2) scale(1.040 1)" text-anchor="end" class="tk">48</text>
<path d="M796.8 552.6h-6.5" stroke="#808080" stroke-width="1.4"/>
<text transform="translate(783.5 559.2) scale(1.040 1)" text-anchor="end" class="tk">49</text>
<path d="M796.8 481.6h-6.5" stroke="#808080" stroke-width="1.4"/>
<text transform="translate(783.5 488.2) scale(1.040 1)" text-anchor="end" class="tk">50</text>
<path d="M796.8 410.6h-6.5" stroke="#808080" stroke-width="1.4"/>
<text transform="translate(783.5 417.2) scale(1.040 1)" text-anchor="end" class="tk">51</text>
<path d="M796.8 339.6h-6.5" stroke="#808080" stroke-width="1.4"/>
<text transform="translate(783.5 346.2) scale(1.040 1)" text-anchor="end" class="tk">52</text>
<path d="M796.8 268.6h-6.5" stroke="#808080" stroke-width="1.4"/>
<text transform="translate(783.5 275.2) scale(1.040 1)" text-anchor="end" class="tk">53</text>
<path d="M796.8 197.6h-6.5" stroke="#808080" stroke-width="1.4"/>
<text transform="translate(783.5 204.2) scale(1.040 1)" text-anchor="end" class="tk">54</text>
<path d="M796.8 126.6h-6.5" stroke="#808080" stroke-width="1.4"/>
<text transform="translate(783.5 133.2) scale(1.040 1)" text-anchor="end" class="tk">55</text>
<path d="M855.2 705.8v6.5" stroke="#808080" stroke-width="1.4"/>
<text transform="translate(855.2 734.3) scale(1.040 1)" text-anchor="middle" class="tk">6</text>
<path d="M954.9 705.8v6.5" stroke="#808080" stroke-width="1.4"/>
<text transform="translate(954.9 734.3) scale(1.040 1)" text-anchor="middle" class="tk">8</text>
<path d="M1054.5 705.8v6.5" stroke="#808080" stroke-width="1.4"/>
<text transform="translate(1054.5 734.3) scale(1.040 1)" text-anchor="middle" class="tk">10</text>
<path d="M1154.2 705.8v6.5" stroke="#808080" stroke-width="1.4"/>
<text transform="translate(1154.2 734.3) scale(1.040 1)" text-anchor="middle" class="tk">12</text>
<path d="M1253.8 705.8v6.5" stroke="#808080" stroke-width="1.4"/>
<text transform="translate(1253.8 734.3) scale(1.040 1)" text-anchor="middle" class="tk">14</text>
</g>
<g id="cbL">
<defs><linearGradient id="gL" x1="0" y1="0" x2="0" y2="1"><stop offset="0.000" stop-color="#08306b"/><stop offset="0.062" stop-color="#084082"/><stop offset="0.125" stop-color="#08509b"/><stop offset="0.188" stop-color="#1460a8"/><stop offset="0.250" stop-color="#2070b4"/><stop offset="0.312" stop-color="#3181bd"/><stop offset="0.375" stop-color="#4191c6"/><stop offset="0.438" stop-color="#56a0ce"/><stop offset="0.500" stop-color="#6aaed6"/><stop offset="0.562" stop-color="#84bcdb"/><stop offset="0.625" stop-color="#9dcae1"/><stop offset="0.688" stop-color="#b2d2e8"/><stop offset="0.750" stop-color="#c6dbef"/><stop offset="0.812" stop-color="#d2e3f3"/><stop offset="0.875" stop-color="#deebf7"/><stop offset="0.938" stop-color="#eaf3fb"/><stop offset="1.000" stop-color="#f7fbff"/></linearGradient></defs>
<rect x="620.0" y="91.0" width="31.6" height="618.6" fill="url(#gL)" stroke="#2a2a2a" stroke-width="1.5"/>
<path d="M651.6 709.6h5.5" stroke="#808080" stroke-width="1.4"/>
<text transform="translate(663.5 716.2) scale(1.040 1)" class="tk">0.0</text>
<path d="M651.6 632.3h5.5" stroke="#808080" stroke-width="1.4"/>
<text transform="translate(663.5 638.9) scale(1.040 1)" class="tk">2.5</text>
<path d="M651.6 555.0h5.5" stroke="#808080" stroke-width="1.4"/>
<text transform="translate(663.5 561.6) scale(1.040 1)" class="tk">5.0</text>
<path d="M651.6 477.6h5.5" stroke="#808080" stroke-width="1.4"/>
<text transform="translate(663.5 484.2) scale(1.040 1)" class="tk">7.5</text>
<path d="M651.6 400.3h5.5" stroke="#808080" stroke-width="1.4"/>
<text transform="translate(663.5 406.9) scale(1.040 1)" class="tk">10.0</text>
<path d="M651.6 323.0h5.5" stroke="#808080" stroke-width="1.4"/>
<text transform="translate(663.5 329.6) scale(1.040 1)" class="tk">12.5</text>
<path d="M651.6 245.7h5.5" stroke="#808080" stroke-width="1.4"/>
<text transform="translate(663.5 252.2) scale(1.040 1)" class="tk">15.0</text>
<path d="M651.6 168.3h5.5" stroke="#808080" stroke-width="1.4"/>
<text transform="translate(663.5 174.9) scale(1.040 1)" class="tk">17.5</text>
<path d="M651.6 91.0h5.5" stroke="#808080" stroke-width="1.4"/>
<text transform="translate(663.5 97.6) scale(1.040 1)" class="tk">20.0</text>
</g>
<g id="cbR">
<defs><linearGradient id="gR" x1="0" y1="0" x2="0" y2="1"><stop offset="0.000" stop-color="#08306b"/><stop offset="0.062" stop-color="#084082"/><stop offset="0.125" stop-color="#08509b"/><stop offset="0.188" stop-color="#1460a8"/><stop offset="0.250" stop-color="#2070b4"/><stop offset="0.312" stop-color="#3181bd"/><stop offset="0.375" stop-color="#4191c6"/><stop offset="0.438" stop-color="#56a0ce"/><stop offset="0.500" stop-color="#6aaed6"/><stop offset="0.562" stop-color="#84bcdb"/><stop offset="0.625" stop-color="#9dcae1"/><stop offset="0.688" stop-color="#b2d2e8"/><stop offset="0.750" stop-color="#c6dbef"/><stop offset="0.812" stop-color="#d2e3f3"/><stop offset="0.875" stop-color="#deebf7"/><stop offset="0.938" stop-color="#eaf3fb"/><stop offset="1.000" stop-color="#f7fbff"/></linearGradient></defs>
<rect x="1354.6" y="80.2" width="32.2" height="625.8" fill="url(#gR)" stroke="#2a2a2a" stroke-width="1.5"/>
<path d="M1386.8 706.0h5.5" stroke="#808080" stroke-width="1.4"/>
<text transform="translate(1398.0 712.6) scale(1.040 1)" class="tk">5</text>
<path d="M1386.8 636.5h5.5" stroke="#808080" stroke-width="1.4"/>
<text transform="translate(1398.0 643.1) scale(1.040 1)" class="tk">10</text>
<path d="M1386.8 567.0h5.5" stroke="#808080" stroke-width="1.4"/>
<text transform="translate(1398.0 573.6) scale(1.040 1)" class="tk">15</text>
<path d="M1386.8 497.5h5.5" stroke="#808080" stroke-width="1.4"/>
<text transform="translate(1398.0 504.1) scale(1.040 1)" class="tk">20</text>
<path d="M1386.8 428.0h5.5" stroke="#808080" stroke-width="1.4"/>
<text transform="translate(1398.0 434.6) scale(1.040 1)" class="tk">25</text>
<path d="M1386.8 358.5h5.5" stroke="#808080" stroke-width="1.4"/>
<text transform="translate(1398.0 365.1) scale(1.040 1)" class="tk">30</text>
<path d="M1386.8 289.0h5.5" stroke="#808080" stroke-width="1.4"/>
<text transform="translate(1398.0 295.6) scale(1.040 1)" class="tk">35</text>
<path d="M1386.8 219.5h5.5" stroke="#808080" stroke-width="1.4"/>
<text transform="translate(1398.0 226.1) scale(1.040 1)" class="tk">40</text>
<path d="M1386.8 150.0h5.5" stroke="#808080" stroke-width="1.4"/>
<text transform="translate(1398.0 156.6) scale(1.040 1)" class="tk">45</text>
<path d="M1386.8 80.5h5.5" stroke="#808080" stroke-width="1.4"/>
<text transform="translate(1398.0 87.1) scale(1.040 1)" class="tk">50</text>
</g>
<text class="ttl" font-size="31.4" transform="translate(2.37 28.40) scale(1.0975 1)">Most extreme LWP event</text>
<text class="ttl" font-size="31.4" transform="translate(2.96 70.30) scale(1.1196 1)">(March 1985)</text>
<text class="ttl" font-size="31.4" transform="translate(719.25 27.40) scale(1.1032 1)">Mean wind power</text>
<text class="ttl" font-size="31.4" transform="translate(719.67 69.30) scale(1.1535 1)">(1985)</text>
<text class="cb" font-size="22.2" transform="translate(483.53 78.30) scale(1.0146 1)">Capacity factor</text>
<text class="cb" font-size="22.2" transform="translate(482.56 104.80) scale(1.0548 1)">in percent:</text>
<text class="cb" font-size="22.2" transform="translate(1221.52 67.60) scale(1.0229 1)">Capacity factor</text>
<text class="cb" font-size="22.2" transform="translate(1220.56 94.80) scale(1.0557 1)">in percent:</text>
<text class="lab" font-size="25.9" transform="translate(261.56 763.20) scale(1.0950 1)">Longitude</text>
<text class="lab" font-size="25.9" transform="translate(987.03 762.90) scale(1.1070 1)">Longitude</text>
<text class="lab" font-size="25.9" transform="translate(24.10 455.13) rotate(-90) scale(1.0933 1)">Latitude</text>
<text class="lab" font-size="25.9" transform="translate(741.50 471.24) rotate(-90) scale(1.0962 1)">Latitude</text>
</svg>
</body></html>
